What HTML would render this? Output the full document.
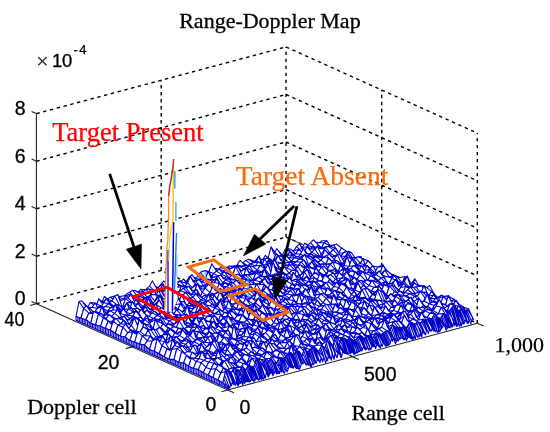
<!DOCTYPE html>
<html><head><meta charset="utf-8"><style>
html,body{margin:0;padding:0;background:#fff;width:550px;height:432px;overflow:hidden}
svg{display:block}
.s{font-family:"Liberation Serif","Times New Roman",serif}
.a{font-family:"Liberation Sans",Arial,sans-serif}
</style></head><body>
<svg width="550" height="432" viewBox="0 0 550 432">
<rect width="550" height="432" fill="#fff"/>
<path d="M36.4 303.8L286.0 237.1M286.0 237.1L477.3 323.3M36.4 256.2L286.0 189.6M286.0 189.6L477.3 275.8M36.4 208.7L286.0 142.0M286.0 142.0L477.3 228.2M36.4 161.2L286.0 94.5M286.0 94.5L477.3 180.7M36.4 113.6L286.0 46.9M286.0 46.9L477.3 133.1M161.2 270.5L161.2 80.3M286.0 237.1L286.0 46.9M381.7 280.2L381.7 90.0M477.3 323.3L477.3 133.1M132.1 346.9L381.7 280.2M352.5 356.6L161.2 270.5" fill="none" stroke="#000" stroke-width="1.4" stroke-dasharray="3.4 3.6"/>
<path d="M286 237.1L330 256.8" stroke="#333" stroke-width="1"/>
<g fill="#fff" stroke="#0000d0" stroke-width="5.3" stroke-linejoin="round" transform="scale(0.2)">
<path d="M380 1583l15-75l14-4l14 21l14 15l14-27l14 8l14 14l15-41l14 21l14-33l14 13l14-9l14 8l14-15l14 4l15-2l14-2l14-11l14-7l14-10l14 3l14 6l14-14l15 18l14-22l14-11l14-27l14 26l14 9l14-17l14-17l15 16l14-4l14-14l14 13l14-7l14 2l14-16l15 14l14-25l14-10l14 16l14-7l14-22l14-6l14-2l15 6l14-40l14 22l14 13l14-16l14-1l14 12l14-19l15 3l14 3l14-12l14-22l14 12l14-12l14-6l15 5l14 11l14-6l14-9l14 2l14-22l14 12l14-55l15 36l14-27l14 17l14 16l14-30l14-3l14 3l14 9l15-23l14-11l14 17l14-23l14 11l14-13l14-14l14 13l15 2l14-10l24 0l-14 10l-14 30l-14-18l-14 17l-14-8l-15 8l-14-9l-14 27l-14-1l-14-14l-14 24l-14 2l-14-14l-15 19l-14 13l-14-13l-14 2l-14-11l-14 37l-14 0l-15-15l-14 5l-14 32l-14-47l-14 28l-14 6l-14 6l-14 8l-15-2l-14 5l-14 1l-14-2l-14 0l-14 14l-14-7l-14 8l-15 20l-14-20l-14 11l-14 11l-14 23l-14-33l-14 37l-14-4l-15 6l-14 11l-14-3l-14-4l-14 31l-14-16l-14-4l-15-7l-14 15l-14-4l-14 4l-14 9l-14 39l-14-48l-14 32l-15-2l-14 6l-14 9l-14-19l-14 3l-14 10l-14 11l-14 14l-15 10l-14-12l-14 12l-14-14l-14 17l-14 9l-14-31l-15 6l-14 25l-14 6l-14-16l-14 19l-14 24l-14 5l-14-28l-15 21l-14 4l-14-11l-14 13l-14 49zm15-75l24 34m-10-38l24 25m-10-4l24 15m-10 0l24-4m-10-23l25 2m-11 6l25 22m-11-8l25 3m-10-44l24 20m-10 1l24-20m-10-13l24 29m-10-16l24 10m-10-19l24-6m-10 14l25-20m-11 5l25 26m-11-22l25 13m-10-15l24-2m-10 0l24 14m-10-25l24 13m-10-20l24 32m-10-42l25 32m-11-29l25 15m-11-9l25-2m-11-12l25 2m-10 16l24-19m-10-3l24 22m-10-33l24 24m-10-51l24 45m-10-19l25 21m-11-12l25-20m-11 3l25 45m-11-62l25 23m-10-7l24-2m-10-2l24-2m-10-12l24 16m-10-3l24-12m-10 5l25 2m-11 0l25 4m-11-20l25 36m-10-22l24-9m-10-16l24 20m-10-30l24 33m-10-17l24 6m-10-13l25 7m-11-29l25 33m-11-39l25 2m-11-4l25 37m-10-31l24 8m-10-48l24 37m-10-15l24 4m-10 9l24 11m-10-27l25 7m-11-8l25 0m-11 12l25-5m-11-14l25 0m-10 3l24-3m-10 6l24-4m-10-8l24 7m-10-29l24 24m-10-12l25 14m-11-26l25 18m-11-24l25 18m-10-13l24 7m-10 4l24-32m-10 26l24 21m-10-30l24-2m-10 4l24-9m-10-13l25 28m-11-16l25 16m-11-71l25 34m-10 2l24 9m-10-36l24 34m-10-17l24 30m-10-14l24 1m-10-31l25 12m-11-15l25 29m-11-26l25 24m-11-15l25-9m-10-14l24 28m-10-39l24 40m-10-23l24-4m-10-19l24 28m-10-17l25 9m-11-22l25 30m-11-44l25 27m-11-14l25 32m-10-30l24 0"/>
<path d="M405 1591l14-49l14-13l14 11l14-4l15-21l14 28l14-5l14-24l14-19l14 16l14-6l14-25l15-6l14 31l14-9l14-17l14 14l14-12l14 12l15-10l14-14l14-11l14-10l14-3l14 19l14-9l14-6l15 2l14-32l14 48l14-39l14-9l14-4l14 4l14-15l15 7l14 4l14 16l14-31l14 4l14 3l14-11l15-6l14 4l14-37l14 33l14-23l14-11l14-11l14 20l15-20l14-8l14 7l14-14l14 0l14 2l14-1l14-5l15 2l14-8l14-6l14-6l14-28l14 47l14-32l14-5l15 15l14 0l14-37l14 11l14-2l14 13l14-13l15-19l14 14l14-2l14-24l14 14l14 1l14-27l14 9l15-8l14 8l14-17l14 18l14-30l14-10l25 37l-14-15l-15 20l-14-2l-14 0l-14-10l-14 11l-14 17l-14 8l-15-1l-14-27l-14 28l-14 21l-14 15l-14-32l-14 17l-14-10l-15 7l-14 15l-14-25l-14 29l-14 11l-14 17l-14 2l-14-3l-15-19l-14-5l-14 20l-14 3l-14-3l-14 6l-14 9l-14 11l-15-18l-14-6l-14 43l-14 0l-14-8l-14-8l-14 13l-15 9l-14 2l-14 5l-14 10l-14-1l-14 4l-14 8l-14-11l-15 9l-14 2l-14-26l-14 31l-14 18l-14-2l-14-4l-14 13l-15-17l-14 7l-14 34l-14-9l-14 8l-14-14l-14 25l-15-21l-14 19l-14 23l-14-5l-14-1l-14-5l-14 20l-14 1l-15-33l-14 18l-14 3l-14 49l-14-12l-14-6l-14 10l-14-5l-15-10l-14 14l-14 10l-14-14l-14 14l-14 22l-14 3l-14-1l-15 33zm14-49l25 24m-11-37l25 38m-11-27l25 24m-11-28l25 6m-10-27l24 13m-10 15l24-1m-10-4l24-6m-10-18l24 4m-10-23l25 33m-11-17l25 22m-11-28l25 18m-11-43l25 49m-10-55l24 67m-10-36l24-13m-10 4l24-7m-10-10l24-8m-10 22l25 11m-11-23l25 22m-11-10l25-10m-10 0l24 5m-10-19l24 20m-10-31l24 36m-10-46l24 23m-10-26l24 7m-10 12l25 9m-11-18l25-7m-11 1l25 13m-10-11l24 3m-10-35l24 44m-10 4l24-38m-10-1l24-6m-10-3l25 20m-11-24l25 11m-11-7l25 11m-11-26l25 28m-10-21l24 3m-10 1l24-32m-10 48l24-22m-10-9l24 7m-10-3l25-6m-11 9l25 2m-11-13l25 5m-10-11l24 7m-10-3l24 4m-10-41l24 31m-10 2l24-7m-10-16l24 14m-10-25l25 16m-11-27l25 14m-11 6l25 2m-10-22l24 30m-10-38l24 38m-10-31l24-12m-10-2l24 8m-10-8l25 26m-11-24l25 13m-11-14l25 5m-11-10l25 4m-10-2l24 5m-10-13l24 10m-10-16l24-4m-10-2l24 7m-10-35l25 54m-11-7l25 10m-11-42l25 40m-11-45l25 28m-10-13l24 2m-10-2l24-27m-10-10l24 35m-10-24l24 9m-10-11l25 4m-11 9l25 1m-11-14l25-3m-10-16l24 48m-10-34l24 19m-10-21l24 0m-10-24l24-4m-10 18l24 9m-10-8l25 9m-11-36l25 28m-11-19l25 2m-10-10l24-1m-10 9l24 1m-10-18l24 18m-10 0l24 2m-10-32l25 12"/>
<path d="M429 1599l15-33l14 1l14-3l14-22l14-14l14 14l14-10l14-14l15 10l14 5l14-10l14 6l14 12l14-49l14-3l14-18l15 33l14-1l14-20l14 5l14 1l14 5l14-23l14-19l15 21l14-25l14 14l14-8l14 9l14-34l14-7l15 17l14-13l14 4l14 2l14-18l14-31l14 26l14-2l15-9l14 11l14-8l14-4l14 1l14-10l14-5l14-2l15-9l14-13l14 8l14 8l14 0l14-43l14 6l15 18l14-11l14-9l14-6l14 3l14-3l14-20l14 5l15 19l14 3l14-2l14-17l14-11l14-29l14 25l14-15l15-7l14 10l14-17l14 32l14-15l14-21l14-28l14 27l15 1l14-8l14-17l14-11l14 10l14 0l14 2l15-20l14 15l24-20l-14 4l-14 8l-14-1l-14 2l-15 51l-14-4l-14-4l-14 6l-14-13l-14 5l-14 13l-14-6l-15 5l-14-3l-14 5l-14 18l-14 4l-14 4l-14-2l-14 2l-15 9l-14-27l-14 47l-14-47l-14 64l-14-36l-14 2l-15 23l-14 19l-14-13l-14 10l-14-27l-14 46l-14-6l-14-8l-15 6l-14-3l-14 16l-14-7l-14 11l-14-18l-14 5l-14 16l-15 9l-14 24l-14-11l-14 10l-14 8l-14-9l-14-7l-15 18l-14 10l-14-13l-14-4l-14 1l-14 38l-14-11l-14-27l-15 42l-14 14l-14-8l-14-25l-14-1l-14 20l-14-3l-14 5l-15 21l-14-9l-14 12l-14 12l-14-16l-14 24l-14-8l-14 1l-15 20l-14 26l-14-18l-14 7l-14-11l-14 0l-14 17l-15 21l-14-44l-14 38l-14-11l-14-2l-14 60zm15-33l24-9m-10 10l24-8m-10 5l24 6m-10-28l24-10m-10-4l24 48m-10-34l25 13m-11-23l25 6m-11-20l25 20m-10-10l24 21m-10-16l24 9m-10-19l24 37m-10-31l24 5m-10 7l25-27m-11-22l25 21m-11-24l25 32m-11-50l25 26m-10 7l24 9m-10-10l24-2m-10-18l24 6m-10-1l24 10m-10-9l25-12m-11 17l25-22m-11-1l25 4m-11-23l25 3m-10 18l24-17m-10-8l24 33m-10-19l24 27m-10-35l24 21m-10-12l25-30m-11-4l25 31m-11-38l25 49m-10-32l24-6m-10-7l24 6m-10-2l24 6m-10-4l24 17m-10-35l24 25m-10-56l25 38m-11-12l25 19m-11-21l25 30m-10-39l24 31m-10-20l24 10m-10-18l24 29m-10-33l24 9m-10-8l25-1m-11-9l25-7m-11 2l25-7m-11 5l25 13m-10-22l24 11m-10-24l24 31m-10-23l24 7m-10 1l24 2m-10-2l25-4m-11-39l25 47m-11-41l25 47m-10-29l24-17m-10 6l24 21m-10-30l24 20m-10-26l24 39m-10-36l24 17m-10-20l25-3m-11-17l25 15m-11-10l25 46m-10-27l24-37m-10 40l24 7m-10-9l24-38m-10 21l24 6m-10-17l25 8m-11-37l25 35m-11-10l25 12m-11-27l25 23m-10-30l24 26m-10-16l24-2m-10-15l24 10m-10 22l24-19m-10 4l25-9m-11-12l25 18m-11-46l25 33m-11-6l25 1m-10 0l24 13m-10-21l24 15m-10-32l24 36m-10-47l24 51m-10-41l25-10m-11 10l25-12m-11 14l25-13m-10-7l24-1"/>
<path d="M454 1617l14-60l14 2l14 11l14-38l14 44l15-21l14-17l14 0l14 11l14-7l14 18l14-26l15-20l14-1l14 8l14-24l14 16l14-12l14-12l14 9l15-21l14-5l14 3l14-20l14 1l14 25l14 8l14-14l15-42l14 27l14 11l14-38l14-1l14 4l14 13l14-10l15-18l14 7l14 9l14-8l14-10l14 11l14-24l15-9l14-16l14-5l14 18l14-11l14 7l14-16l14 3l15-6l14 8l14 6l14-46l14 27l14-10l14 13l14-19l15-23l14-2l14 36l14-64l14 47l14-47l14 27l15-9l14-2l14 2l14-4l14-4l14-18l14-5l14 3l15-5l14 6l14-13l14-5l14 13l14-6l14 4l14 4l15-51l14-2l14 1l14-8l14-4l25 19l-15 25l-14-23l-14 6l-14 18l-14-2l-14-16l-14 41l-14-3l-15-1l-14 4l-14-6l-14 3l-14-14l-14 18l-14 5l-15 14l-14 10l-14-10l-14 19l-14 0l-14 18l-14 0l-14-6l-15-15l-14 36l-14-40l-14 26l-14 15l-14 2l-14-9l-14 10l-15 10l-14-2l-14 1l-14 17l-14 7l-14 9l-14-8l-14 0l-15-5l-14 6l-14 14l-14 20l-14-41l-14 19l-14 6l-15 19l-14 12l-14-20l-14 19l-14-29l-14 36l-14 0l-14-23l-15 7l-14 3l-14 12l-14 20l-14 0l-14 0l-14 12l-14 5l-15 3l-14-11l-14-8l-14 32l-14 15l-14-38l-14 9l-15 43l-14 1l-14-19l-14 14l-14-24l-14 40l-14-34l-14 33l-15 5l-14 13l-14-42l-14 28l-14 3l-14 19l-14 5l-14-9l-15 3l-14 52zm14-60l24 15m-10-13l25 10m-11 1l25 8m-11-46l25 41m-11 3l25-22m-10 1l24-4m-10-13l24-15m-10 15l24 27m-10-16l24 3m-10-10l25 5m-11 13l25-46m-11 20l25 14m-10-34l24-6m-10 5l24 19m-10-11l24-3m-10-21l24 40m-10-24l24 23m-10-35l25-8m-11-4l25-5m-11 14l25 24m-10-45l24 30m-10-35l24 3m-10 0l24 8m-10-28l24 39m-10-38l25 35m-11-10l25 5m-11 3l25-15m-11 1l25-1m-10-41l24 41m-10-14l24-6m-10 17l24-29m-10-9l24 6m-10-7l25 0m-11 4l25 19m-11-6l25 6m-11-16l25-20m-10 2l24 27m-10-20l24 1m-10 8l24 12m-10-20l24 8m-10-18l25-1m-11 12l25-18m-11-6l25-13m-10 4l24 37m-10-53l24 33m-10-38l24 24m-10-6l24 0m-10-11l25 16m-11-9l25 9m-11-25l25 33m-11-30l25 21m-10-27l24 20m-10-12l24-5m-10 11l24-12m-10-34l24 36m-10-9l25-1m-11-9l25-1m-11 14l25-5m-11-14l25 12m-10-35l24 20m-10-22l24-4m-10 40l24 0m-10-64l24 28m-10 19l25-4m-11-43l25 49m-11-22l25 22m-10-31l24 13m-10-15l24 15m-10-13l24-6m-10 2l24 8m-10-12l24 2m-10-20l25 6m-11-11l25 6m-11-3l25-15m-10 10l24 4m-10 2l24-5m-10-8l24 14m-10-19l24 15m-10-2l25 3m-11-9l25 12m-11-8l25-33m-11 37l25-21m-10-30l24 32m-10-34l24 16m-10-15l24 9m-10-17l24 40"/>
<path d="M478 1624l14-52l15-3l14 9l14-5l14-19l14-3l14-28l14 42l14-13l15-5l14-33l14 34l14-40l14 24l14-14l14 19l14-1l15-43l14-9l14 38l14-15l14-32l14 8l14 11l15-3l14-5l14-12l14 0l14 0l14-20l14-12l14-3l15-7l14 23l14 0l14-36l14 29l14-19l14 20l14-12l15-19l14-6l14-19l14 41l14-20l14-14l14-6l15 5l14 0l14 8l14-9l14-7l14-17l14-1l14 2l15-10l14-10l14 9l14-2l14-15l14-26l14 40l14-36l15 15l14 6l14 0l14-18l14 0l14-19l14 10l14-10l15-14l14-5l14-18l14 14l14-3l14 6l14-4l15 1l14 3l14-41l14 16l14 2l14-18l14-6l14 23l15-25l24 16l-14 8l-14 17l-14-8l-15 9l-14 2l-14-12l-14 6l-14 8l-14 15l-14 10l-14-7l-15-3l-14 37l-14-9l-14-29l-14 10l-14 17l-14 15l-14-18l-15 1l-14 15l-14-7l-14 22l-14 6l-14-7l-14-46l-14 69l-15 5l-14-36l-14 35l-14-16l-14-1l-14 36l-14 1l-15-3l-14-9l-14 6l-14 22l-14-16l-14 15l-14-5l-14 15l-15-13l-14 20l-14-15l-14 36l-14 16l-14-42l-14-5l-14 18l-15 21l-14 35l-14-50l-14 13l-14 13l-14-8l-14-3l-15 17l-14 17l-14-20l-14 11l-14 10l-14 6l-14 20l-14-12l-15-36l-14 49l-14 2l-14 2l-14-35l-14 29l-14 26l-14 3l-15-10l-14 4l-14-4l-14 3l-14 18l-14-18l-14 23l-14-18l-15 18l-14 15l-14-9l-14 21l-14-5l-14 43zm14-52l25 17m-10-20l24 25m-10-16l24-5m-10 0l24 9m-10-28l24 13m-10-16l25-2m-11-26l25 44m-11-2l25-21m-11 8l25 10m-10-15l24-3m-10-30l24 27m-10 7l24-3m-10-37l24 33m-10-9l25 19m-11-33l25 30m-11-11l25-15m-11 14l25-43m-10 0l24 35m-10-44l24 42m-10-4l24 2m-10-17l24-32m-10 0l25 36m-11-28l25 40m-11-29l25 9m-10-12l24 6m-10-11l24 1m-10-13l24 2m-10-2l24 22m-10-22l24 5m-10-25l25 8m-11-20l25 23m-11-26l25 34m-10-41l24 28m-10-5l24-8m-10 8l24 42m-10-78l24 43m-10-14l25-7m-11-12l25-6m-11 26l25-21m-11 9l25 33m-10-52l24 36m-10-42l24 6m-10-25l24 40m-10 1l24-21m-10 1l25 12m-11-26l25 11m-11-17l25 22m-10-17l24 2m-10-2l24 18m-10-10l24-12m-10 3l24-9m-10 2l24 7m-10-24l25 27m-11-28l25 27m-11-25l25-11m-10 1l24 0m-10-10l24 26m-10-17l24-18m-10 16l24 20m-10-35l25 30m-11-56l25-13m-11 53l25-7m-11-29l25 36m-10-21l24 15m-10-9l24-13m-10 13l24-6m-10-12l24-3m-10 3l25-4m-11-15l25 33m-11-23l25 8m-11-18l25 1m-10-15l24 5m-10-10l24 39m-10-57l24 66m-10-52l24 15m-10-18l25 21m-11-15l25 22m-11-26l25 16m-10-15l24 0m-10 3l24-11m-10-30l24 24m-10-8l24 20m-10-18l24 16m-10-34l25 25m-11-31l25 39m-11-16l25-1"/>
<path d="M503 1632l14-43l14 5l14-21l14 9l14-15l15-18l14 18l14-23l14 18l14-18l14-3l14 4l14-4l15 10l14-3l14-26l14-29l14 35l14-2l14-2l14-49l15 36l14 12l14-20l14-6l14-10l14-11l14 20l14-17l15-17l14 3l14 8l14-13l14-13l14 50l14-35l15-21l14-18l14 5l14 42l14-16l14-36l14 15l14-20l15 13l14-15l14 5l14-15l14 16l14-22l14-6l14 9l15 3l14-1l14-36l14 1l14 16l14-35l14 36l15-5l14-69l14 46l14 7l14-6l14-22l14 7l14-15l15-1l14 18l14-15l14-17l14-10l14 29l14 9l14-37l15 3l14 7l14-10l14-15l14-8l14-6l14 12l14-2l15-9l14 8l14-17l14-8l24 6l-14-5l-14 23l-14 18l-14-23l-14-2l-14 25l-14 8l-15-15l-14 30l-14 16l-14-13l-14 4l-14 6l-14-26l-14 22l-15 6l-14 3l-14-14l-14 8l-14 18l-14 1l-14 15l-15 5l-14-5l-14 3l-14-1l-14 1l-14 8l-14 6l-14 13l-15-12l-14-2l-14 3l-14 16l-14-1l-14 4l-14-6l-14 15l-15 14l-14 15l-14 15l-14-11l-14-27l-14 13l-14 9l-14 19l-15-11l-14 3l-14-19l-14 29l-14 16l-14-2l-14 11l-15-11l-14-7l-14 16l-14 5l-14 11l-14-20l-14-8l-14 33l-15-8l-14 16l-14 18l-14-5l-14 11l-14-14l-14-25l-14 24l-15 14l-14 12l-14-11l-14-5l-14 29l-14 5l-14 9l-15-16l-14 6l-14 9l-14-1l-14 16l-14-4l-14 9l-14-1l-15 24l-14-14l-14 37zm14-43l24 16m-10-11l24 25m-10-46l25 22m-11-13l25 14m-11-29l25 20m-10-38l24 42m-10-24l24 8m-10-31l24 32m-10-14l24 5m-10-23l24 17m-10-20l25 36m-11-32l25 23m-11-27l25 22m-10-12l24-17m-10 14l24-9m-10-17l24 28m-10-57l24 45m-10-10l25-4m-11 2l25-26m-11 24l25 1m-11-50l25 64m-10-28l24 17m-10-5l24 10m-10-30l24 12m-10-18l24 2m-10-12l25 20m-11-31l25-2m-11 22l25-14m-11-3l25 23m-10-40l24 29m-10-26l24 21m-10-13l24-3m-10-10l24 17m-10-30l25 41m-11 9l25-20m-11-15l25 17m-10-38l24 22m-10-40l24 11m-10-6l24 25m-10 17l24-20m-10 4l25 7m-11-43l25 24m-11-9l25 0m-11-20l25 7m-10 6l24 21m-10-36l24 47m-10-42l24 27m-10-42l24 27m-10-11l25-3m-11-19l25 4m-11-10l25 16m-11-7l25 3m-10 0l24 1m-10-2l24-14m-10-22l24 19m-10-18l24 20m-10-4l25 16m-11-51l25 38m-11-2l25-4m-10-1l24-7m-10-62l24 61m-10-15l24 16m-10-9l24 6m-10-12l24 17m-10-39l25 34m-11-27l25 12m-11-27l25 26m-10-27l24 9m-10 9l24-17m-10 2l24 12m-10-29l24 26m-10-36l25 30m-11-1l25-21m-11 30l25-4m-11-33l25 27m-10-24l24 20m-10-13l24 26m-10-36l24 20m-10-35l24 5m-10-13l25 28m-11-34l25 26m-11-14l25-11m-11 9l25-7m-10-2l24 25m-10-17l24-1m-10-16l24-7"/>
<path d="M527 1642l14-37l14 14l15-24l14 1l14-9l14 4l14-16l14 1l14-9l14-6l15 16l14-9l14-5l14-29l14 5l14 11l14-12l15-14l14-24l14 25l14 14l14-11l14 5l14-18l14-16l15 8l14-33l14 8l14 20l14-11l14-5l14-16l14 7l15 11l14-11l14 2l14-16l14-29l14 19l14-3l15 11l14-19l14-9l14-13l14 27l14 11l14-15l14-15l15-14l14-15l14 6l14-4l14 1l14-16l14-3l14 2l15 12l14-13l14-6l14-8l14-1l14 1l14-3l14 5l15-5l14-15l14-1l14-18l14-8l14 14l14-3l15-6l14-22l14 26l14-6l14-4l14 13l14-16l14-30l15 15l14-8l14-25l14 2l14 23l14-18l14-23l14 5l25 35l-14 3l-14-12l-14-19l-15 47l-14 5l-14-9l-14-10l-14 15l-14 0l-14 23l-15-19l-14-2l-14 15l-14-2l-14 14l-14-6l-14-3l-14-2l-15 31l-14 15l-14-31l-14 31l-14 12l-14 7l-14-29l-14 19l-15-10l-14-4l-14 6l-14 15l-14-5l-14-10l-14 18l-14 9l-15 27l-14-19l-14 7l-14-1l-14-4l-14 25l-14 12l-15-24l-14 30l-14-13l-14 15l-14-1l-14 22l-14-43l-14 15l-15 14l-14-2l-14 14l-14 23l-14-12l-14 5l-14 15l-14-5l-15 14l-14-9l-14 14l-14-20l-14 3l-14-20l-14 33l-15 4l-14-20l-14 26l-14 7l-14-2l-14 12l-14-34l-14 34l-15 16l-14-16l-14 16l-14-21l-14 18l-14-9l-14 25l-14 13l-15 7l-14-18l-14 8l-14 4l-14-2l-14 14l-14 45zm14-37l25 1m-11 13l25-27m-10 3l24-1m-10 2l24-6m-10-3l24-5m-10 9l24 9m-10-25l25 18m-11-17l25 4m-11-13l25-12m-11 6l25 3m-10 13l24-31m-10 22l24-1m-10-4l24-12m-10-17l24 33m-10-28l25 12m-11-1l25-33m-11 21l25 13m-10-27l24 15m-10-39l24 41m-10-16l24 9m-10 5l24-31m-10 20l24 0m-10 5l25-9m-11-9l25-24m-11 8l25 12m-10-4l24 1m-10-34l24 54m-10-46l24 32m-10-12l24 21m-10-32l25 18m-11-23l25 28m-11-44l25 29m-11-22l25 17m-10-6l24 18m-10-29l24 6m-10-4l24-10m-10-6l24 8m-10-37l25 23m-11-4l25-11m-11 8l25 35m-10-24l24 2m-10-21l24 22m-10-31l24 16m-10-29l24 42m-10-15l24-15m-10 26l25-2m-11-13l25 1m-11-16l25-9m-10-5l24 9m-10-24l24 25m-10-19l24 12m-10-16l24 35m-10-34l25 7m-11-23l25 14m-11-17l25-1m-11 3l25 7m-10 5l24 0m-10-13l24-2m-10-4l24-2m-10-6l24 10m-10-11l25 21m-11-20l25 1m-11-4l25 33m-11-28l25 21m-10-26l24 14m-10-29l24-2m-10 1l24 30m-10-48l24 33m-10-41l25 10m-11 4l25-2m-11-1l25 4m-10-10l24 16m-10-38l24 24m-10 2l24 0m-10-6l24-9m-10 5l24-3m-10 16l25 3m-11-19l25-4m-11-26l25 26m-10-11l24-4m-10-4l24 14m-10-39l24 48m-10-46l24 41m-10-18l25-29m-11 11l25 8m-11-31l25 43"/>
<path d="M552 1651l14-45l14-14l14 2l14-4l14-8l14 18l15-7l14-13l14-25l14 9l14-18l14 21l14-16l14 16l15-16l14-34l14 34l14-12l14 2l14-7l14-26l14 20l15-4l14-33l14 20l14-3l14 20l14-14l14 9l15-14l14 5l14-15l14-5l14 12l14-23l14-14l14 2l15-14l14-15l14 43l14-22l14 1l14-15l14 13l14-30l15 24l14-12l14-25l14 4l14 1l14-7l14 19l15-27l14-9l14-18l14 10l14 5l14-15l14-6l14 4l15 10l14-19l14 29l14-7l14-12l14-31l14 31l14-15l15-31l14 2l14 3l14 6l14-14l14 2l14-15l14 2l15 19l14-23l14 0l14-15l14 10l14 9l14-5l15-47l14 19l14 12l14-3l24-13l-14 1l-14 3l-14 19l-14 12l-14-36l-14 45l-15-6l-14-3l-14-5l-14-2l-14 9l-14 28l-14-15l-14 2l-15 20l-14-18l-14 41l-14 6l-14-38l-14 13l-14 37l-14-17l-15 0l-14-19l-14 61l-14-30l-14-2l-14 24l-14-16l-15 14l-14 21l-14-22l-14 7l-14-26l-14 15l-14 16l-14-4l-15 37l-14-23l-14 11l-14 25l-14-9l-14-18l-14 43l-14-28l-15 22l-14-20l-14 43l-14-22l-14-23l-14 42l-14-24l-14 35l-15-40l-14 39l-14 8l-14-11l-14 22l-14 13l-14-13l-15 14l-14-2l-14-3l-14-18l-14 38l-14-24l-14 9l-14-24l-15 35l-14 9l-14 11l-14 1l-14-17l-14 7l-14 18l-14-5l-15 24l-14-15l-14 5l-14-5l-14 13l-14 23l-14-5l-15-16l-14 18l-14 7l-14 40zm14-45l24 20m-10-34l24 27m-10-25l24 7m-10-11l25 27m-11-35l25 40m-11-22l25-1m-10-6l24-7m-10-6l24 11m-10-36l24 31m-10-22l24 37m-10-55l25 31m-11-10l25 15m-11-31l25 13m-11 3l25-10m-10-6l24 23m-10-57l24 56m-10-22l24 11m-10-23l24 14m-10-12l25-23m-11 16l25 8m-11-34l25 25m-11-5l25 29m-10-33l24-5m-10-28l24 46m-10-26l24 29m-10-32l24 34m-10-14l25 0m-11-14l25 27m-11-18l25 5m-10-19l24-3m-10 8l24 3m-10-18l24 10m-10-15l24-24m-10 36l25 4m-11-27l25-8m-11-6l25 30m-11-28l25-14m-10 0l24 23m-10-38l24 60m-10-17l24-26m-10 4l24 16m-10-15l25-7m-11-8l25 36m-11-23l25-20m-11-10l25 28m-10-4l24 13m-10-25l24 0m-10-25l24 14m-10-10l24 33m-10-32l25-5m-11-2l25 6m-11 13l25-29m-10 2l24-17m-10 8l24 18m-10-36l24 29m-10-19l24 41m-10-36l24 15m-10-30l25 16m-11-22l25 38m-11-34l25 10m-10 0l24 2m-10-21l24 51m-10-22l24-39m-10 32l24-13m-10 1l25-1m-11-30l25 47m-11-16l25-21m-11 6l25-19m-10-12l24 50m-10-48l24 42m-10-39l24-2m-10 8l24 10m-10-24l25 4m-11-2l25 0m-11-15l25 30m-11-28l25 0m-10 19l24-28m-10 5l24-3m-10 3l24 2m-10-17l24 20m-10-10l25 16m-11-7l25-38m-11 33l25 3m-10-50l24 38m-10-19l24 0m-10 12l24-15"/>
<path d="M576 1666l14-40l14-7l14-18l15 16l14 5l14-23l14-13l14 5l14-5l14 15l15-24l14 5l14-18l14-7l14 17l14-1l14-11l14-9l15-35l14 24l14-9l14 24l14-38l14 18l14 3l14 2l15-14l14 13l14-13l14-22l14 11l14-8l14-39l15 40l14-35l14 24l14-42l14 23l14 22l14-43l14 20l15-22l14 28l14-43l14 18l14 9l14-25l14-11l14 23l15-37l14 4l14-16l14-15l14 26l14-7l14 22l14-21l15-14l14 16l14-24l14 2l14 30l14-61l14 19l15 0l14 17l14-37l14-13l14 38l14-6l14-41l14 18l15-20l14-2l14 15l14-28l14-9l14 2l14 5l14 3l15 6l14-45l14 36l14-12l14-19l14-3l14-1l25 61l-14-51l-14 23l-15 7l-14-21l-14-8l-14 37l-14 14l-14-4l-14-18l-14 43l-15-22l-14 7l-14 8l-14 9l-14 11l-14 0l-14-5l-15-11l-14 13l-14 20l-14-15l-14 19l-14-4l-14 3l-14-4l-15 8l-14-14l-14 16l-14 3l-14 42l-14-49l-14-5l-14 25l-15 1l-14 32l-14-34l-14 40l-14-5l-14 1l-14-2l-14-1l-15 5l-14 6l-14 8l-14 17l-14-8l-14-18l-14 22l-15-12l-14 34l-14-5l-14 1l-14 29l-14-35l-14 1l-14 4l-15 22l-14-13l-14 25l-14-10l-14 16l-14 17l-14-13l-14 5l-15 8l-14-12l-14 0l-14 24l-14-18l-14 14l-14 20l-15-29l-14 14l-14 4l-14 16l-14 17l-14-8l-14 3l-14 13l-15-11l-14 15l-14-33l-14 39l-14 14l-14-21l-14 15l-14 44zm14-40l25 10m-11-17l25 2m-11-20l25 41m-10-25l24 11m-10-6l24-33m-10 10l24 23m-10-36l24 21m-10-16l25 27m-11-32l25 19m-11-4l25 1m-10-25l24 33m-10-28l24 11m-10-29l24 13m-10-20l24 16m-10 1l24-15m-10 14l25 15m-11-26l25 6m-11-15l25 1m-10-36l24 54m-10-30l24 6m-10-15l24 15m-10 9l24 3m-10-41l25 33m-11-15l25 10m-11-7l25 20m-11-18l25 1m-10-15l24-1m-10 14l24-4m-10-9l24-16m-10-6l24 19m-10-8l25-14m-11 6l25-10m-11-29l25 28m-10 12l24 23m-10-58l24 29m-10-5l24 4m-10-46l24 51m-10-28l24-6m-10 28l25-16m-11-27l25 5m-11 15l25 3m-10-25l24 33m-10-5l24-12m-10-31l24 23m-10-5l24-1m-10 10l25-15m-11-10l25 11m-11-22l25 24m-11-1l25 0m-10-37l24 42m-10-38l24-2m-10-14l24 48m-10-63l24 31m-10-5l25 4m-11-11l25-14m-11 36l25-31m-11 10l25 39m-10-53l24 11m-10 5l24-8m-10-16l24 0m-10 2l24 12m-10 18l25-26m-11-35l25 39m-11-20l25 17m-10-17l24 21m-10-4l24-15m-10-22l24 37m-10-50l24 30m-10 8l24-21m-10 15l25-4m-11-37l25 42m-11-24l25 24m-10-44l24 33m-10-35l24 26m-10-11l24 3m-10-31l24 24m-10-33l25 55m-11-53l25 10m-11-5l25 23m-11-20l25 24m-10-18l24 4m-10-49l24 12m-10 24l24-16m-10 4l24 17m-10-36l25 29m-11-32l25 9"/>
<path d="M601 1680l14-44l14-15l14 21l14-14l14-39l14 33l14-15l15 11l14-13l14-3l14 8l14-17l14-16l14-4l14-14l15 29l14-20l14-14l14 18l14-24l14 0l14 12l15-8l14-5l14 13l14-17l14-16l14 10l14-25l14 13l15-22l14-4l14-1l14 35l14-29l14-1l14 5l14-34l15 12l14-22l14 18l14 8l14-17l14-8l14-6l15-5l14 1l14 2l14-1l14 5l14-40l14 34l14-32l15-1l14-25l14 5l14 49l14-42l14-3l14-16l14 14l15-8l14 4l14-3l14 4l14-19l14 15l14-20l14-13l15 11l14 5l14 0l14-11l14-9l14-8l14-7l15 22l14-43l14 18l14 4l14-14l14-37l14 8l14 21l15-7l14-23l14 51l24-28l-14-13l-14 21l-14 10l-14 19l-14-20l-14-6l-15 14l-14 9l-14 14l-14-19l-14 11l-14 2l-14 14l-15-14l-14-4l-14 28l-14 10l-14-28l-14 37l-14-14l-14 31l-15-12l-14 13l-14 1l-14-2l-14-10l-14 23l-14-12l-14 26l-15 12l-14-29l-14-3l-14 15l-14-24l-14 33l-14-4l-15-14l-14 23l-14 17l-14-3l-14 7l-14 6l-14 13l-14-13l-15-7l-14 14l-14-1l-14 23l-14-40l-14 47l-14-33l-14 29l-15-20l-14 36l-14 7l-14-14l-14 6l-14-3l-14 23l-15-28l-14 2l-14 40l-14 2l-14 16l-14-55l-14 46l-14 5l-15-3l-14 6l-14 6l-14-4l-14 8l-14 4l-14-7l-14 10l-15 3l-14-7l-14 20l-14-24l-14 9l-14 20l-14-20l-14 62l-15-6l-14-2l-14 12l-14 21zm14-44l24 28m-10-43l24 31m-10-10l24 12m-10-26l25 32m-11-71l25 9m-11 24l25-4m-11-11l25-9m-10 20l24-29m-10 16l24 8m-10-11l24-9m-10 17l24-10m-10-7l25 4m-11-20l25 10m-11-14l25 21m-11-35l25 31m-10-2l24-6m-10-14l24 18m-10-32l24 26m-10-8l24 2m-10-26l25 29m-11-29l25 24m-11-12l25-34m-10 26l24 29m-10-34l24 18m-10-5l24 3m-10-20l24-20m-10 4l24-6m-10 16l25 12m-11-37l25 14m-11-1l25 4m-10-26l24 20m-10-24l24 38m-10-39l24 32m-10 3l24-39m-10 10l25 10m-11-11l25-18m-11 23l25 10m-11-44l25-3m-10 15l24 25m-10-47l24 24m-10-6l24 7m-10 1l24-15m-10-2l25 9m-11-17l25 30m-11-36l25 23m-10-28l24 22m-10-21l24 14m-10-12l24 15m-10-16l24-1m-10 6l24-29m-10-11l25 25m-11 9l25-5m-11-27l25-6m-10 5l24 19m-10-44l24 29m-10-24l24 27m-10 22l24 7m-10-49l25 37m-11-40l25 14m-11-30l25 42m-11-28l25 5m-10-13l24 23m-10-19l24 21m-10-24l24 23m-10-19l24 6m-10-25l25 37m-11-22l25-9m-11-11l25 25m-11-38l25 1m-10 10l24 18m-10-13l24 3m-10-3l24-25m-10 14l24-10m-10 1l25 13m-11-21l25 7m-11-14l25 12m-10 10l24-21m-10-22l24 41m-10-23l24 9m-10-5l24-4m-10-10l25-4m-11-33l25 39m-11-31l25 51m-11-30l25 11m-10-18l24 8m-10-31l24 10"/>
<path d="M625 1685l14-21l14-12l14 2l15 6l14-62l14 20l14-20l14-9l14 24l14-20l14 7l15-3l14-10l14 7l14-4l14-8l14 4l14-6l14-6l15 3l14-5l14-46l14 55l14-16l14-2l14-40l14-2l15 28l14-23l14 3l14-6l14 14l14-7l14-36l15 20l14-29l14 33l14-47l14 40l14-23l14 1l14-14l15 7l14 13l14-13l14-6l14-7l14 3l14-17l14-23l15 14l14 4l14-33l14 24l14-15l14 3l14 29l15-12l14-26l14 12l14-23l14 10l14 2l14-1l14-13l15 12l14-31l14 14l14-37l14 28l14-10l14-28l14 4l15 14l14-14l14-2l14-11l14 19l14-14l14-9l15-14l14 6l14 20l14-19l14-10l14-21l14 13l25 37l-14-24l-15 12l-14-14l-14 24l-14-24l-14 23l-14 17l-14-10l-14-3l-15 17l-14-27l-14 32l-14-15l-14 28l-14-26l-14 9l-14 13l-15-10l-14 27l-14 1l-14 6l-14-4l-14 31l-14-5l-15 6l-14-3l-14-4l-14-10l-14 23l-14-7l-14 4l-14 20l-15 8l-14-18l-14 19l-14 18l-14-18l-14 3l-14 6l-14 13l-15-16l-14-18l-14 37l-14-7l-14 15l-14-12l-14 26l-14 0l-15 2l-14 0l-14 18l-14-34l-14 35l-14 5l-14-41l-15 29l-14 9l-14 29l-14-27l-14 8l-14 14l-14 28l-14-33l-15 14l-14 9l-14 4l-14-15l-14 22l-14-4l-14 10l-14-15l-15 14l-14 7l-14 19l-14 14l-14-39l-14 10l-14-11l-15 61l-14-41l-14 7l-14-9l-14 46l-14 7l-14 0l-14-9l-15 43zm14-21l25-4m-11-8l25 17m-11-15l25 15m-10-9l24 2m-10-64l24 18m-10 2l24 7m-10-27l24 20m-10-29l24 70m-10-46l25-15m-11-5l25 16m-11-9l25-1m-10-2l24 41m-10-51l24 37m-10-30l24 11m-10-15l24 8m-10-16l25 2m-11 2l25 13m-11-19l25 9m-11-15l25 19m-10-16l24-6m-10 1l24 14m-10-60l24 56m-10-1l24-8m-10-8l25-6m-11 4l25 29m-11-69l25 41m-11-43l25 29m-10-1l24-7m-10-16l24 43m-10-40l24 11m-10-17l24 8m-10 6l25-35m-11 28l25 13m-11-49l25 44m-10-24l24-11m-10-18l24 52m-10-19l24 1m-10-48l24 48m-10-8l25 6m-11-29l25 29m-11-28l25 2m-11-16l25 28m-10-21l24 6m-10 7l24 0m-10-13l24-24m-10 18l24 0m-10-7l25 23m-11-20l25 7m-11-24l25 18m-11-41l25 38m-10-24l24 42m-10-38l24 20m-10-53l24 34m-10-10l24 28m-10-43l25 35m-11-32l25 12m-11 17l25-21m-10 9l24-2m-10-24l24 1m-10 11l24-1m-10-22l24 26m-10-16l24 19m-10-17l25 11m-11-12l25 17m-11-30l25-1m-10 13l24-9m-10-22l24 16m-10-2l24 1m-10-38l24 11m-10 17l25-7m-11-3l25-10m-11-18l25 9m-11-5l25 31m-10-17l24-11m-10-3l24 18m-10-20l24-12m-10 1l24 26m-10-7l25-10m-11-4l25 7m-11-16l25 26m-10-40l24 23m-10-17l24-6m-10 26l24-2m-10-17l24-7m-10-3l24 17m-10-38l25 26"/>
<path d="M649 1703l15-43l14 9l14 0l14-7l14-46l14 9l14-7l14 41l15-61l14 11l14-10l14 39l14-14l14-19l14-7l15-14l14 15l14-10l14 4l14-22l14 15l14-4l14-9l15-14l14 33l14-28l14-14l14-8l14 27l14-29l14-9l15-29l14 41l14-5l14-35l14 34l14-18l14 0l15-2l14 0l14-26l14 12l14-15l14 7l14-37l14 18l15 16l14-13l14-6l14-3l14 18l14-18l14-19l14 18l15-8l14-20l14-4l14 7l14-23l14 10l14 4l14 3l15-6l14 5l14-31l14 4l14-6l14-1l14-27l15 10l14-13l14-9l14 26l14-28l14 15l14-32l14 27l15-17l14 3l14 10l14-17l14-23l14 24l14-24l14 14l15-12l14 24l24-20l-14 1l-14 28l-14 2l-14-17l-14 24l-15 9l-14-28l-14 23l-14-18l-14 34l-14-18l-14-14l-15 21l-14 11l-14 15l-14-11l-14 20l-14-21l-14 28l-14-9l-15 18l-14-1l-14 22l-14-26l-14-3l-14 9l-14-6l-14-2l-15 31l-14 15l-14-24l-14 6l-14 17l-14 5l-14 6l-14 0l-15-16l-14 20l-14 5l-14-12l-14 17l-14 10l-14-9l-15 12l-14 14l-14 5l-14 1l-14 13l-14-23l-14-13l-14 42l-15-14l-14 14l-14 14l-14-19l-14 16l-14-7l-14 23l-14-3l-15-12l-14-20l-14 19l-14 19l-14-33l-14 46l-14 3l-15 21l-14-30l-14 26l-14-9l-14-10l-14 9l-14 21l-14 1l-15-2l-14 11l-14-12l-14 25l-14 21l-14-14l-14-8l-14 7l-15-9l-14-6l-14 23l-14 1l-14 52zm15-43l24-1m-10 10l24-11m-10 11l24-34m-10 27l24-21m-10-25l25 34m-11-25l25 18m-11-25l25 33m-11 8l25 6m-10-67l24 46m-10-35l24 10m-10-20l24 32m-10 7l24-18m-10 4l25-2m-11-17l25 16m-11-23l25 2m-10-16l24 7m-10 8l24 2m-10-12l24 21m-10-17l24-9m-10-13l24 43m-10-28l25 7m-11-11l25 8m-11-17l25-29m-10 15l24 18m-10 15l24-34m-10 6l24-25m-10 11l24 9m-10-17l25 29m-11-2l25 5m-11-34l25 11m-11-20l25 27m-10-56l24 40m-10 1l24 18m-10-23l24 9m-10-44l24 30m-10 4l25 10m-11-28l25-14m-11 14l25-1m-10-1l24 24m-10-24l24 11m-10-37l24 36m-10-24l24 19m-10-34l24 20m-10-13l25 1m-11-38l25 47m-11-29l25 19m-10-3l24-14m-10 1l24 11m-10-17l24 12m-10-15l24-5m-10 23l25-7m-11-11l25 11m-11-30l25 24m-11-6l25 1m-10-9l24-8m-10-12l24 6m-10-10l24 34m-10-27l24 12m-10-35l25 4m-11 6l25-4m-11 8l25-2m-11 5l25-14m-10 8l24-5m-10 10l24 16m-10-47l24 25m-10-21l24 22m-10-28l25 10m-11-11l25 20m-11-47l25 19m-10-9l24 30m-10-43l24 23m-10-32l24 43m-10-17l24 2m-10-30l24 19m-10-4l25-17m-11-15l25 29m-11-2l25 20m-10-37l24 3m-10 0l24 18m-10-8l24-15m-10-2l24 30m-10-53l25 44m-11-20l25-4m-11-20l25 37m-11-23l25 21m-10-33l24 5"/>
<path d="M674 1711l14-52l14-1l14-23l14 6l15 9l14-7l14 8l14 14l14-21l14-25l14 12l14-11l15 2l14-1l14-21l14-9l14 10l14 9l14-26l14 30l15-21l14-3l14-46l14 33l14-19l14-19l14 20l15 12l14 3l14-23l14 7l14-16l14 19l14-14l14-14l15 14l14-42l14 13l14 23l14-13l14-1l14-5l14-14l15-12l14 9l14-10l14-17l14 12l14-5l14-20l15 16l14 0l14-6l14-5l14-17l14-6l14 24l14-15l15-31l14 2l14 6l14-9l14 3l14 26l14-22l14 1l15-18l14 9l14-28l14 21l14-20l14 11l14-15l14-11l15-21l14 14l14 18l14-34l14 18l14-23l14 28l15-9l14-24l14 17l14-2l14-28l14-1l25 15l-14-25l-15 51l-14 14l-14-16l-14-8l-14-5l-14 8l-14-11l-15 17l-14 22l-14-9l-14 16l-14-3l-14-11l-14 15l-14 11l-15-4l-14 5l-14 9l-14-15l-14 2l-14 15l-14 16l-14-5l-15 21l-14-1l-14-22l-14 23l-14 15l-14-5l-14-28l-15 35l-14-1l-14 16l-14 19l-14-25l-14 15l-14 19l-14-42l-15 10l-14 42l-14-33l-14 14l-14-1l-14-19l-14 25l-14 17l-15 12l-14-1l-14-24l-14 22l-14 10l-14-5l-14-1l-14 22l-15 2l-14-8l-14 22l-14-30l-14 18l-14-5l-14 10l-15 5l-14 18l-14-11l-14 27l-14-31l-14 30l-14 6l-14-5l-15 8l-14-33l-14 14l-14 34l-14-4l-14 10l-14-3l-14 23l-15-19l-14-8l-14 13l-14-4l-14 5l-14-2l-14 29l-15 1l-14 41zm14-52l24 20m-10-21l25 20m-11-43l25 14m-11-8l25 10m-10-1l24-4m-10-3l24 7m-10 1l24-14m-10 28l24-20m-10-1l25 20m-11-45l25 22m-11-10l25 13m-11-24l25 14m-10-12l24 16m-10-17l24-17m-10-4l24-10m-10 1l24 32m-10-22l25 14m-11-5l25 10m-11-36l25 30m-11 0l25-30m-10 9l24 22m-10-25l24-2m-10-44l24 55m-10-22l24 4m-10-23l25 18m-11-37l25 27m-11-7l25 12m-10 0l24-18m-10 21l24 9m-10-32l24 10m-10-3l24 11m-10-27l25 25m-11-6l25-16m-11 2l25-1m-11-13l25 18m-10-4l24-6m-10-36l24 14m-10-1l24 25m-10-2l24 3m-10-16l25 4m-11-5l25-12m-11 7l25-32m-11 18l25 1m-10-13l24 14m-10-5l24-9m-10-1l24 34m-10-51l24 9m-10 3l25-13m-11 8l25 34m-11-54l25 35m-10-19l24 4m-10-4l24 29m-10-35l24 16m-10-21l24 5m-10-22l24 23m-10-29l25-6m-11 30l25-2m-11-13l25 18m-10-49l24 34m-10-32l24 9m-10-3l24 25m-10-34l24 35m-10-32l25 11m-11 15l25-10m-11-12l25-4m-11 5l25-20m-10 2l24-4m-10 13l24 2m-10-30l24 21m-10 0l24-5m-10-15l25 19m-11-8l25-3m-11-12l25-3m-11-8l25 19m-10-40l24 43m-10-29l24 13m-10 5l24 4m-10-38l24 16m-10 2l25-19m-11-4l25 15m-11 13l25-21m-10 12l24-7m-10-17l24 25m-10-8l24 24m-10-26l24 12m-10-40l25-11"/>
<path d="M698 1720l14-41l15-1l14-29l14 2l14-5l14 4l14-13l14 8l15 19l14-23l14 3l14-10l14 4l14-34l14-14l14 33l15-8l14 5l14-6l14-30l14 31l14-27l14 11l14-18l15-5l14-10l14 5l14-18l14 30l14-22l14 8l15-2l14-22l14 1l14 5l14-10l14-22l14 24l14 1l15-12l14-17l14-25l14 19l14 1l14-14l14 33l14-42l15-10l14 42l14-19l14-15l14 25l14-19l14-16l14 1l15-35l14 28l14 5l14-15l14-23l14 22l14 1l15-21l14 5l14-16l14-15l14-2l14 15l14-9l14-5l15 4l14-11l14-15l14 11l14 3l14-16l14 9l14-22l15-17l14 11l14-8l14 5l14 8l14 16l14-14l15-51l14 25l24 18l-14-11l-14-5l-14 25l-14-21l-15 19l-14 6l-14-2l-14 24l-14-1l-14 13l-14 8l-14 6l-15-6l-14-1l-14-26l-14 22l-14 18l-14-2l-14-23l-15 23l-14 18l-14 6l-14-7l-14-8l-14-6l-14 17l-14 26l-15-46l-14 34l-14-23l-14 27l-14-4l-14 8l-14 5l-14-4l-15 23l-14-3l-14 10l-14 14l-14 6l-14-22l-14-1l-14 22l-15 13l-14-5l-14 2l-14 33l-14-45l-14 31l-14-18l-15 43l-14-15l-14-16l-14 27l-14-7l-14-11l-14 5l-14 21l-15 15l-14-26l-14 39l-14-30l-14 2l-14 27l-14-3l-14-14l-15 7l-14 36l-14-18l-14 14l-14-2l-14 5l-14 10l-15 3l-14-8l-14 28l-14-18l-14-4l-14 23l-14-5l-14 27l-15-4l-14-2l-14 15l-14-20l-14 24l-14 21zm14-41l25 25m-10-26l24 2m-10-31l24 51m-10-49l24 34m-10-39l24 41m-10-37l25 41m-11-54l25 27m-11-19l25 24m-10-5l24-18m-10-5l24 9m-10-6l24 24m-10-34l24 6m-10-2l24 10m-10-44l25 41m-11-55l25 45m-11-12l25 7m-10-15l24 17m-10-12l24-2m-10-4l24 22m-10-52l24 16m-10 15l25-22m-11-5l25 19m-11-8l25 11m-11-29l25 2m-10-7l24 5m-10-15l24 45m-10-40l24 1m-10-19l24 45m-10-15l25 0m-11-22l25 1m-11 7l25-12m-10 10l24 1m-10-23l24 30m-10-29l24 2m-10 3l24 13m-10-23l24 38m-10-60l25 17m-11 7l25 11m-11-10l25-21m-10 9l24 36m-10-53l24 20m-10-45l24 43m-10-24l24 29m-10-28l25 15m-11-29l25 7m-11 26l25-25m-11-17l25 39m-10-49l24 43m-10-1l24-13m-10-6l24-4m-10-11l24 14m-10 11l25-34m-11 15l25-11m-11-5l25 0m-11 1l25-9m-10-26l24 30m-10-2l24-25m-10 30l24-7m-10-8l24-26m-10 3l25 43m-11-21l25-5m-11 6l25-23m-10 2l24 4m-10 1l24 7m-10-23l24 30m-10-45l24 39m-10-41l24 23m-10-8l25-15m-11 6l25 17m-11-22l25 24m-10-20l24 2m-10-13l24-9m-10-6l24 32m-10-21l24 22m-10-19l25 25m-11-41l25 35m-11-26l25 18m-11-40l25 27m-10-44l24 45m-10-34l24 10m-10-18l24 20m-10-15l24 9m-10-1l25-18m-11 34l25-13m-11-1l25-24m-10-27l24 32"/>
<path d="M723 1725l14-21l14-24l14 20l14-15l14 2l15 4l14-27l14 5l14-23l14 4l14 18l14-28l14 8l15-3l14-10l14-5l14 2l14-14l14 18l14-36l15-7l14 14l14 3l14-27l14-2l14 30l14-39l14 26l15-15l14-21l14-5l14 11l14 7l14-27l14 16l14 15l15-43l14 18l14-31l14 45l14-33l14-2l14 5l15-13l14-22l14 1l14 22l14-6l14-14l14-10l14 3l15-23l14 4l14-5l14-8l14 4l14-27l14 23l14-34l15 46l14-26l14-17l14 6l14 8l14 7l14-6l14-18l15-23l14 23l14 2l14-18l14-22l14 26l14 1l15 6l14-6l14-8l14-13l14 1l14-24l14 2l14-6l15-19l14 21l14-25l14 5l14 11l25 11l-15 0l-14 9l-14-4l-14 5l-14 2l-14 13l-14-7l-14 10l-15 1l-14-7l-14 10l-14-8l-14 2l-14 17l-14 34l-15-1l-14-17l-14-14l-14-4l-14 19l-14 23l-14 11l-14-24l-15-8l-14 34l-14 2l-14-3l-14 0l-14 32l-14-21l-14-2l-15 7l-14 26l-14-44l-14 47l-14-16l-14 25l-14-6l-15 6l-14 9l-14-6l-14-3l-14 29l-14-18l-14 6l-14-9l-15-11l-14 25l-14-2l-14 9l-14 5l-14 14l-14-36l-14 34l-15-1l-14 8l-14 17l-14-10l-14 26l-14-9l-14-12l-14 18l-15 21l-14-6l-14-19l-14 32l-14 8l-14-19l-14 12l-15-5l-14-16l-14 22l-14 27l-14-17l-14-9l-14 17l-14 11l-15-4l-14 25l-14-19l-14 3l-14 0l-14 6l-14 12l-14 6l-15 7l-14 43zm14-21l24 1m-10-25l25 18m-11 2l25-8m-11-7l25-5m-11 7l25-13m-10 17l24-17m-10-10l24 7m-10-2l24 21m-10-44l24 19m-10-15l25 19m-11-1l25-10m-11-18l25 1m-11 7l25 2m-10-5l24 22m-10-32l24 5m-10-10l24-12m-10 14l24 2m-10-16l25 21m-11-3l25-9m-11-27l25 46m-10-53l24 45m-10-31l24-1m-10 4l24 15m-10-42l24 48m-10-50l25 29m-11 1l25-19m-11-20l25 32m-11-6l25 15m-10-30l24 4m-10-25l24 35m-10-40l24 23m-10-12l24 4m-10 3l25-2m-11-25l25-9m-11 25l25 11m-11 4l25-18m-10-25l24 20m-10-2l24-7m-10-24l24 26m-10 19l24-44m-10 11l25 0m-11-2l25 11m-11-6l25 0m-10-13l24 31m-10-53l24 24m-10-23l24 26m-10-4l24 10m-10-16l24 7m-10-21l25 15m-11-25l25 31m-11-28l25 3m-10-26l24 42m-10-38l24-9m-10 4l24 40m-10-48l24 22m-10-18l25 11m-11-38l25 40m-11-17l25 38m-11-72l25 40m-10 6l24-6m-10-20l24 23m-10-40l24 38m-10-32l24-2m-10 10l25-2m-11 9l25 15m-11-21l25 10m-11-28l25 5m-10-28l24 9m-10 14l24-10m-10 12l24 2m-10-20l24 37m-10-59l25 60m-11-34l25 0m-11 1l25-18m-10 24l24-26m-10 20l24-12m-10 4l24-14m-10 1l24 6m-10-5l25 4m-11-28l25 18m-11-16l25 23m-11-29l25 16m-10-35l24 33m-10-12l24 7m-10-32l24 36m-10-31l24 22"/>
<path d="M747 1748l14-43l15-7l14-6l14-12l14-6l14 0l14-3l14 19l14-25l15 4l14-11l14-17l14 9l14 17l14-27l14-22l14 16l15 5l14-12l14 19l14-8l14-32l14 19l14 6l15-21l14-18l14 12l14 9l14-26l14 10l14-17l14-8l15 1l14-34l14 36l14-14l14-5l14-9l14 2l14-25l15 11l14 9l14-6l14 18l14-29l14 3l14 6l14-9l15-6l14 6l14-25l14 16l14-47l14 44l14-26l15-7l14 2l14 21l14-32l14 0l14 3l14-2l14-34l15 8l14 24l14-11l14-23l14-19l14 4l14 14l14 17l15 1l14-34l14-17l14-2l14 8l14-10l14 7l15-1l14-10l14 7l14-13l14-2l14-5l14 4l14-9l15 0l24 10l-14-2l-14-6l-14 11l-15 34l-14-10l-14 9l-14-4l-14-14l-14 2l-14-7l-14 27l-15 11l-14-12l-14 16l-14-29l-14 37l-14-8l-14 4l-14-12l-15 26l-14 2l-14 19l-14-30l-14 12l-14 10l-14 1l-15-7l-14 2l-14 17l-14 7l-14 11l-14 16l-14-35l-14-3l-15 39l-14-3l-14 3l-14 0l-14 15l-14-3l-14 10l-14-14l-15 17l-14-2l-14 34l-14-10l-14 4l-14-5l-14-4l-14 24l-15-37l-14 23l-14-10l-14 33l-14-10l-14-12l-14 31l-15 4l-14-14l-14-2l-14-16l-14 49l-14-2l-14-12l-14 24l-15-31l-14 20l-14 20l-14-2l-14 14l-14-22l-14-3l-14 25l-15 15l-14-3l-14-5l-14-15l-14 28l-14 8l-14 19l-15-19l-14-19l-14 40l-14-25l-14 23l-14-12l-14 63zm14-43l25-12m-10 5l24 7m-10-13l24-10m-10-2l24 27m-10-33l24-7m-10 7l24 12m-10-15l25 34m-11-15l25-4m-11-21l25 13m-10-9l24-19m-10 8l24 7m-10-24l24 29m-10-20l24 23m-10-6l25-9m-11-18l25-7m-11-15l25 18m-11-2l25 24m-10-19l24 5m-10-17l24 19m-10 0l24-20m-10 12l24-32m-10 0l25 31m-11-12l25-12m-11 18l25-6m-10-15l24 17m-10-35l24-14m-10 26l24-10m-10 19l24-17m-10-9l24 23m-10-13l25 9m-11-26l25-5m-11-3l25 15m-10-14l24 24m-10-58l24 25m-10 11l24-1m-10-13l24-10m-10 5l25 32m-11-41l25 17m-11-15l25 19m-11-44l25 49m-10-38l24 34m-10-25l24 35m-10-41l24 7m-10 11l24-9m-10-20l25 3m-11 0l25 14m-11-8l25-2m-11-7l25 10m-10-16l24 1m-10 5l24-5m-10-20l24 17m-10-1l24 4m-10-51l25 12m-11 32l25-29m-11 3l25 32m-10-39l24 23m-10-21l24 10m-10 11l24-18m-10-14l24-3m-10 3l24-5m-10 8l25-1m-11-1l25 0m-11-34l25 24m-10-16l24 4m-10 20l24 10m-10-21l24 2m-10-25l24 23m-10-42l25 16m-11-12l25 24m-11-10l25 6m-11 11l25-3m-10 4l24-41m-10 7l24 22m-10-39l24 23m-10-25l24 37m-10-29l25 18m-11-28l25 1m-11 6l25 1m-10-2l24 0m-10-10l24 24m-10-17l24 21m-10-34l24 25m-10-27l24 37m-10-42l25 8m-11-4l25-7m-11-2l25 8"/>
<path d="M772 1756l14-63l14 12l14-23l14 25l14-40l14 19l15 19l14-19l14-8l14-28l14 15l14 5l14 3l15-15l14-25l14 3l14 22l14-14l14 2l14-20l14-20l15 31l14-24l14 12l14 2l14-49l14 16l14 2l14 14l15-4l14-31l14 12l14 10l14-33l14 10l14-23l15 37l14-24l14 4l14 5l14-4l14 10l14-34l14 2l15-17l14 14l14-10l14 3l14-15l14 0l14-3l14 3l15-39l14 3l14 35l14-16l14-11l14-7l14-17l14-2l15 7l14-1l14-10l14-12l14 30l14-19l14-2l15-26l14 12l14-4l14 8l14-37l14 29l14-16l14 12l15-11l14-27l14 7l14-2l14 14l14 4l14-9l14 10l15-34l14-11l14 6l14 2l24-6l-14 33l-14 0l-14-11l-14 21l-14-6l-14 3l-14-15l-15 23l-14-7l-14 15l-14-2l-14 20l-14-8l-14 10l-14 8l-15-6l-14 21l-14-24l-14 16l-14 24l-14-14l-14-5l-15-18l-14 31l-14 13l-14-12l-14-3l-14 2l-14 23l-14 12l-15-24l-14 19l-14-11l-14 14l-14-12l-14 6l-14 21l-14 21l-15-27l-14-3l-14 4l-14 19l-14 9l-14 5l-14-6l-15 13l-14 4l-14-7l-14 9l-14 20l-14-6l-14 3l-14-14l-15 25l-14-12l-14 5l-14 11l-14 1l-14 9l-14-2l-14 1l-15 26l-14-40l-14 32l-14 1l-14-10l-14 13l-14-8l-15 1l-14 40l-14-4l-14-8l-14-7l-14 33l-14-41l-14 30l-15 2l-14 13l-14 13l-14-6l-14-19l-14 23l-14-25l-14 36l-15-10l-14 23l-14 40zm14-63l24 36m-10-24l24 1m-10-24l25 34m-11-9l25-27m-11-13l25 38m-11-19l25-4m-10 23l24-4m-10-15l24 21m-10-29l24 16m-10-44l24 31m-10-16l25 14m-11-9l25-21m-11 24l25 17m-10-32l24-1m-10-24l24 31m-10-28l24 36m-10-14l24 18m-10-32l24-8m-10 10l25-11m-11-9l25 17m-11-37l25 24m-10 7l24 3m-10-27l24 26m-10-14l24-18m-10 20l24 20m-10-69l25 43m-11-27l25 26m-11-24l25 26m-11-12l25 3m-10-7l24 6m-10-37l24 26m-10-14l24 9m-10 1l24 11m-10-44l25 19m-11-9l25 23m-11-46l25 43m-10-6l24 12m-10-36l24 16m-10-12l24 3m-10 2l24 5m-10-9l24 5m-10 5l25-18m-11-16l25 22m-11-20l25 15m-10-32l24 23m-10-9l24-10m-10 0l24-4m-10 7l24-4m-10-11l25 38m-11-38l25 17m-11-20l25-1m-11 4l25-10m-10-29l24 41m-10-38l24 24m-10 11l24 0m-10-16l24-3m-10-8l25 32m-11-39l25 27m-11-44l25 21m-11-23l25 21m-10-14l24 17m-10-18l24 30m-10-40l24 27m-10-39l24 8m-10 22l25-4m-11-15l25 20m-11-22l25 36m-10-62l24 38m-10-26l24 10m-10-14l24 38m-10-30l24 9m-10-46l25 52m-11-23l25 15m-11-31l25 21m-11-9l25 17m-10-28l24 8m-10-35l24 37m-10-30l24 15m-10-17l24 24m-10-10l25-13m-11 17l25-2m-11-7l25 4m-11 6l25 0m-10-34l24 13m-10-24l24 35m-10-29l24 29"/>
<path d="M796 1769l14-40l14-23l15 10l14-36l14 25l14-23l14 19l14 6l14-13l14-13l15-2l14-30l14 41l14-33l14 7l14 8l14 4l14-40l15-1l14 8l14-13l14 10l14-1l14-32l14 40l15-26l14-1l14 2l14-9l14-1l14-11l14-5l14 12l15-25l14 14l14-3l14 6l14-20l14-9l14 7l14-4l15-13l14 6l14-5l14-9l14-19l14-4l14 3l15 27l14-21l14-21l14-6l14 12l14-14l14 11l14-19l15 24l14-12l14-23l14-2l14 3l14 12l14-13l14-31l15 18l14 5l14 14l14-24l14-16l14 24l14-21l15 6l14-8l14-10l14 8l14-20l14 2l14-15l14 7l15-23l14 15l14-3l14 6l14-21l14 11l14 0l14-33l25 42l-14-44l-14 29l-14 5l-15 18l-14-35l-14 17l-14 39l-14-20l-14-10l-14 24l-15-18l-14 51l-14-22l-14 1l-14-16l-14 1l-14 3l-14 41l-15-3l-14 1l-14 7l-14-2l-14-11l-14 14l-14-10l-14 14l-15-23l-14 44l-14 7l-14 2l-14 2l-14 1l-14 17l-15-10l-14-4l-14-13l-14 14l-14-2l-14-2l-14 34l-14-2l-15 8l-14-33l-14 42l-14-6l-14-12l-14 39l-14-18l-14 3l-15-20l-14 41l-14 6l-14-9l-14 8l-14-14l-14 29l-14-6l-15-3l-14 10l-14-18l-14 37l-14-16l-14 9l-14-9l-15 32l-14-9l-14 1l-14 15l-14-5l-14 3l-14-10l-14 21l-15 5l-14 12l-14-6l-14 12l-14 10l-14-6l-14-12l-14 10l-15 11l-14 5l-14 6l-14-30l-14 57l-14-9l-14 40zm14-40l25 15m-11-38l25 47m-10-37l24-20m-10-16l24 46m-10-21l24 15m-10-38l24 33m-10-14l25 3m-11 3l25-13m-11 0l25 12m-11-25l25 31m-10-33l24 23m-10-53l24 41m-10 0l24 6m-10-39l24 27m-10-20l25 15m-11-7l25-14m-11 18l25-8m-11-32l25 29m-10-30l24 35m-10-27l24 12m-10-25l24 24m-10-14l24 23m-10-24l25-8m-11-24l25 33m-11 7l25-16m-10-10l24 26m-10-27l24-10m-10 12l24 6m-10-15l24 5m-10-6l25 9m-11-20l25 26m-11-31l25 2m-11 10l25 4m-10-29l24 21m-10-7l24 16m-10-19l24 13m-10-7l24-34m-10 14l25 6m-11-15l25 12m-11-5l25 23m-11-27l25-12m-10-1l24 13m-10-7l24 13m-10-18l24-24m-10 15l24 18m-10-37l25 29m-11-33l25 35m-11-32l25-2m-10 29l24-27m-10 6l24-4m-10-17l24 3m-10-9l24 22m-10-10l24 14m-10-28l25 38m-11-27l25 10m-11-29l25 28m-10-4l24 2m-10-14l24 12m-10-35l24 28m-10-30l24-14m-10 17l25 6m-11 6l25-20m-11 7l25 3m-11-34l25 20m-10-2l24 13m-10-8l24 10m-10 4l24-11m-10-13l24 12m-10-28l25 31m-11-7l25-34m-11 13l25-16m-10 22l24-23m-10 15l24 1m-10-11l24 10m-10-2l24 24m-10-44l24-7m-10 9l25 9m-11-24l25 0m-11 7l25 3m-10-26l24 46m-10-31l24-8m-10 5l24-22m-10 28l24 7m-10-28l25 10m-11 1l25-6m-11 6l25-35"/>
<path d="M821 1784l14-40l14 9l14-57l14 30l14-6l14-5l15-11l14-10l14 12l14 6l14-10l14-12l14 6l14-12l15-5l14-21l14 10l14-3l14 5l14-15l14-1l14 9l15-32l14 9l14-9l14 16l14-37l14 18l14-10l15 3l14 6l14-29l14 14l14-8l14 9l14-6l14-41l15 20l14-3l14 18l14-39l14 12l14 6l14-42l14 33l15-8l14 2l14-34l14 2l14 2l14-14l14 13l14 4l15 10l14-17l14-1l14-2l14-2l14-7l14-44l15 23l14-14l14 10l14-14l14 11l14 2l14-7l14-1l15 3l14-41l14-3l14-1l14 16l14-1l14 22l14-51l15 18l14-24l14 10l14 20l14-39l14-17l14 35l15-18l14-5l14-29l14 44l24-29l-14 35l-14 5l-14-1l-14-17l-14 20l-14 17l-15-21l-14-4l-14 1l-14 46l-14-10l-14 20l-14-19l-14 12l-15-6l-14 18l-14 5l-14-10l-14 9l-14 16l-14-33l-15 24l-14 4l-14 15l-14-21l-14-3l-14 35l-14-12l-14 26l-15-21l-14-3l-14 4l-14 20l-14 29l-14-27l-14 5l-14 4l-15 25l-14-36l-14 6l-14 15l-14 2l-14 22l-14 5l-14-13l-15-10l-14 21l-14 22l-14-26l-14 25l-14 15l-14-5l-15 7l-14-23l-14 27l-14-36l-14 25l-14 18l-14-13l-14 20l-15-8l-14 14l-14 31l-14-67l-14 72l-14-41l-14 11l-14 19l-15-22l-14 47l-14-11l-14 6l-14-13l-14 21l-14-22l-15 8l-14 1l-14 13l-14 14l-14-16l-14 14l-14 12l-14 4l-15-28l-14 18l-14 20l-14 50zm14-40l24 3m-10 6l24-26m-10-31l24 13m-10 17l25 11m-11-17l25 13m-11-18l25 6m-10-17l24 3m-10-13l24 29m-10-17l24 3m-10 3l24-16m-10 6l24-7m-10-5l25-3m-11 9l25 13m-11-25l25 4m-10-9l24 22m-10-43l24 37m-10-27l24 38m-10-41l24-6m-10 11l25 11m-11-26l25 7m-11-8l25-3m-11 12l25 29m-10-61l24-11m-10 20l24 47m-10-56l24 25m-10-9l24-5m-10-32l25 40m-11-22l25 2m-11-12l25 25m-10-22l24 4m-10 2l24-27m-10-2l24 38m-10-24l24-3m-10-5l24 28m-10-19l25 12m-11-18l25 23m-11-64l25 49m-10-29l24 4m-10-7l24 33m-10-15l24-7m-10-32l24 11m-10 1l25 9m-11-3l25 16m-11-58l25 53m-11-20l25-2m-10-6l24 4m-10-2l24-13m-10-21l24 15m-10-13l24 49m-10-47l25 22m-11-36l25 32m-11-19l25 14m-11-10l25 37m-10-27l24-2m-10-15l24-5m-10 4l24-8m-10 6l24-3m-10 1l25 20m-11-27l25 1m-11-45l25 57m-10-34l24-1m-10-13l24 16m-10-6l24 27m-10-41l24 26m-10-15l24 11m-10-9l25-15m-11 8l25 25m-11-26l25 10m-10-7l24-2m-10-39l24 49m-10-52l24 47m-10-48l24 30m-10-14l25 20m-11-21l25 9m-11 13l25 6m-11-57l25 37m-10-19l24 29m-10-53l24 7m-10 3l24-4m-10 24l24-20m-10-19l25 40m-11-57l25 40m-11-5l25-15m-10-3l24 20m-10-25l24 26m-10-55l24 50"/>
<path d="M845 1797l14-50l14-20l14-18l15 28l14-4l14-12l14-14l14 16l14-14l14-13l14-1l15-8l14 22l14-21l14 13l14-6l14 11l14-47l15 22l14-19l14-11l14 41l14-72l14 67l14-31l14-14l15 8l14-20l14 13l14-18l14-25l14 36l14-27l14 23l15-7l14 5l14-15l14-25l14 26l14-22l14-21l15 10l14 13l14-5l14-22l14-2l14-15l14-6l14 36l15-25l14-4l14-5l14 27l14-29l14-20l14-4l14 3l15 21l14-26l14 12l14-35l14 3l14 21l14-15l14-4l15-24l14 33l14-16l14-9l14 10l14-5l14-18l15 6l14-12l14 19l14-20l14 10l14-46l14-1l14 4l15 21l14-17l14-20l14 17l14 1l14-5l14-35l25 41l-14-11l-14-10l-15 31l-14-6l-14-7l-14 35l-14-12l-14 8l-14-7l-14 24l-15 13l-14-1l-14-31l-14-9l-14-4l-14 49l-14 1l-15 4l-14-2l-14-4l-14 4l-14 1l-14 4l-14 31l-14-11l-15-28l-14 43l-14-22l-14 20l-14-18l-14 40l-14-1l-14-1l-15 12l-14-13l-14 23l-14-9l-14-9l-14 24l-14-3l-15-10l-14 35l-14 2l-14-10l-14 0l-14-11l-14 6l-14 4l-15 31l-14-14l-14 15l-14-2l-14-2l-14 9l-14 9l-14-3l-15-10l-14 14l-14 19l-14-31l-14 1l-14 25l-14 13l-14 2l-15 20l-14-1l-14-9l-14 8l-14 2l-14-8l-14-18l-15 45l-14-3l-14-33l-14 10l-14 23l-14-1l-14 13l-14 12l-15 20l-14-2l-14-17l-14-3l-14-4l-14 6l-14 7l-14 55zm14-50l25-4m-11-16l25 9m-11-27l25 21m-10 7l24-3m-10-1l24 4m-10-16l24 33m-10-47l24 49m-10-33l25 13m-11-27l25 15m-11-28l25 15m-11-16l25 17m-10-25l24 2m-10 20l24-30m-10 9l24 24m-10-11l24 14m-10-20l25-25m-11 36l25-18m-11-29l25 37m-10-15l24 13m-10-32l24 24m-10-35l24 44m-10-3l24 4m-10-76l25 56m-11 11l25-13m-11-18l25 5m-11-19l25-6m-10 14l24-15m-10-5l24 36m-10-23l24 4m-10-22l24 8m-10-33l25 43m-11-7l25 10m-11-37l25 28m-11-5l25-4m-10-3l24 5m-10 0l24 2m-10-17l24 2m-10-27l24 41m-10-15l25-16m-11-6l25 2m-11-23l25 17m-10-7l24 18m-10-5l24 5m-10-10l24 20m-10-42l24 40m-10-42l24 7m-10-22l25 32m-11-38l25 41m-11-5l25-19m-10-6l24 15m-10-19l24 28m-10-33l24 10m-10 17l24-4m-10-25l25 13m-11-33l25 34m-11-38l25 39m-11-36l25-4m-10 25l24-7m-10-19l24-1m-10 13l24 9m-10-44l24 1m-10 2l25 26m-11-5l25 16m-11-31l25 0m-11-4l25 0m-10-24l24 23m-10 10l24-14m-10-2l24 6m-10-15l24 17m-10-7l25 3m-11-8l25 7m-11-25l25-24m-10 30l24-26m-10 14l24-5m-10 24l24 7m-10-27l24 28m-10-18l25 5m-11-51l25 27m-11-28l25 35m-11-31l25 23m-10-2l24 14m-10-31l24-4m-10-16l24 23m-10-6l24 12m-10-11l25-20m-11 15l25-5"/>
<path d="M870 1798l14-55l14-7l14-6l14 4l14 3l14 17l14 2l15-20l14-12l14-13l14 1l14-23l14-10l14 33l14 3l15-45l14 18l14 8l14-2l14-8l14 9l14 1l15-20l14-2l14-13l14-25l14-1l14 31l14-19l14-14l15 10l14 3l14-9l14-9l14 2l14 2l14-15l14 14l15-31l14-4l14-6l14 11l14 0l14 10l14-2l14-35l15 10l14 3l14-24l14 9l14 9l14-23l14 13l15-12l14 1l14 1l14-40l14 18l14-20l14 22l14-43l15 28l14 11l14-31l14-4l14-1l14-4l14 4l14 2l15-4l14-1l14-49l14 4l14 9l14 31l14 1l15-13l14-24l14 7l14-8l14 12l14-35l14 7l14 6l15-31l14 10l14 11l24 17l-14-24l-14 4l-14 2l-14 3l-14-2l-15 13l-14 13l-14 33l-14-22l-14 0l-14 12l-14-17l-14 18l-15 23l-14-5l-14-3l-14 6l-14-4l-14 10l-14-9l-14-12l-15 0l-14 28l-14 12l-14-16l-14-3l-14 29l-14 13l-15-13l-14-3l-14 21l-14 0l-14 12l-14-2l-14-3l-14-4l-15 35l-14-26l-14 25l-14-25l-14 16l-14 33l-14-24l-14 9l-15-10l-14 21l-14-7l-14 11l-14 13l-14-17l-14-8l-14 41l-15-11l-14 1l-14 0l-14 13l-14-15l-14 38l-14-37l-15 21l-14-2l-14 18l-14-39l-14 47l-14 2l-14 7l-14 7l-15-6l-14 5l-14-11l-14-2l-14 23l-14 16l-14 5l-14 5l-15-21l-14 20l-14 12l-14-27l-14 46l-14-38l-14 0l-15 32l-14-1l-14 8l-14-8l-14 56zm14-55l24 15m-10-22l24 30m-10-36l24 28m-10-24l24 25m-10-22l25-10m-11 27l25-27m-11 29l25 9m-10-29l24-17m-10 5l24 22m-10-35l24 23m-10-22l24 2m-10-25l25 46m-11-56l25 51m-11-18l25 13m-11-10l25-6m-10-39l24 16m-10 2l24 0m-10 8l24 3m-10-5l24 0m-10-8l25 14m-11-5l25-2m-11 3l25-10m-10-10l24 8m-10-10l24-37m-10 24l24 15m-10-40l24 22m-10-23l24 25m-10 6l25-27m-11 8l25 29m-11-43l25 5m-10 5l24 10m-10-7l24-6m-10-3l24 3m-10-12l24 11m-10-9l25 20m-11-18l25-23m-11 8l25 0m-11 14l25 3m-10-34l24 21m-10-25l24 14m-10-20l24 27m-10-16l24-5m-10 5l25 5m-11 5l25-14m-11 12l25 12m-11-47l25 14m-10-4l24-12m-10 15l24 10m-10-34l24 9m-10 0l24 26m-10-17l25-18m-11-5l25 9m-11 4l25-1m-10-11l24 13m-10-12l24 0m-10 1l24-1m-10-39l24 18m-10 0l24 3m-10-23l25 36m-11-14l25 1m-11-44l25 15m-10 13l24-10m-10 21l24-5m-10-26l24 14m-10-18l24-10m-10 9l25-9m-11 5l25 7m-11-3l25 12m-11-10l25 0m-10-4l24 8m-10-9l24 3m-10-52l24 55m-10-51l24 56m-10-47l25 24m-11 7l25-25m-11 26l25-9m-10-4l24-8m-10-16l24 16m-10-9l24 31m-10-39l24 6m-10 6l24-19m-10-16l25 3m-11 4l25-2m-11 8l25-11m-10-20l24 18m-10-8l24 4"/>
<path d="M894 1814l14-56l14 8l14-8l14 1l15-32l14 0l14 38l14-46l14 27l14-12l14-20l15 21l14-5l14-5l14-16l14-23l14 2l14 11l14-5l15 6l14-7l14-7l14-2l14-47l14 39l14-18l14 2l15-21l14 37l14-38l14 15l14-13l14 0l14-1l15 11l14-41l14 8l14 17l14-13l14-11l14 7l14-21l15 10l14-9l14 24l14-33l14-16l14 25l14-25l14 26l15-35l14 4l14 3l14 2l14-12l14 0l14-21l14 3l15 13l14-13l14-29l14 3l14 16l14-12l14-28l15 0l14 12l14 9l14-10l14 4l14-6l14 3l14 5l15-23l14-18l14 17l14-12l14 0l14 22l14-33l14-13l15-13l14 2l14-3l14-2l14-4l14 24l25-25l-14 11l-15-10l-14 38l-14-6l-14 7l-14-1l-14 2l-14 9l-14 1l-15 4l-14-9l-14 8l-14 28l-14-5l-14 3l-14 14l-14 23l-15-17l-14-27l-14 7l-14-2l-14 33l-14-34l-14 34l-15 20l-14-41l-14 42l-14-14l-14 5l-14 5l-14 11l-14 0l-15 11l-14 8l-14 3l-14-7l-14 12l-14-19l-14 14l-14 7l-15 11l-14 4l-14-12l-14 11l-14 23l-14-27l-14 37l-15-18l-14-29l-14 41l-14 17l-14-13l-14 35l-14-26l-14 14l-15-6l-14-9l-14 14l-14 12l-14 2l-14-14l-14 5l-14 28l-15-12l-14 24l-14-12l-14 7l-14 3l-14 23l-14-1l-14-12l-15 7l-14-5l-14 40l-14-48l-14-7l-14 12l-14 38l-15-2l-14 5l-14 3l-14 11l-14-2l-14-7l-14 31l-14-15l-15 37zm14-56l25 19m-11-11l25 26m-11-34l25 3m-11-2l25 9m-10-41l24 43m-10-43l24 32m-10 6l24-9m-10-37l24 32m-10-5l25 7m-11-19l25-19m-11-1l25-11m-10 32l24-25m-10 20l24 28m-10-33l24-7m-10-9l24 14m-10-37l25 30m-11-28l25 40m-11-29l25 30m-11-35l25 12m-10-6l24 3m-10-10l24 3m-10-10l24 22m-10-24l24 0m-10-47l25 59m-11-20l25-8m-11-10l25 5m-11-3l25 17m-10-38l24 36m-10 1l24-13m-10-25l24 11m-10 4l24 5m-10-18l25 24m-11-24l25 10m-11-11l25 37m-10-26l24-9m-10-32l24 45m-10-37l24 20m-10-3l24-38m-10 25l24 4m-10-15l25 33m-11-26l25-11m-11-10l25 37m-10-27l24 4m-10-13l24 2m-10 22l24-10m-10-23l24 19m-10-35l25 24m-11 1l25-8m-11-17l25 3m-11 23l25-4m-10-31l24 19m-10-15l24 22m-10-19l24 16m-10-14l24 6m-10-18l25 7m-11-7l25 7m-11-28l25 17m-11-14l25 9m-10 4l24-9m-10-4l24 18m-10-47l24 5m-10-2l24 43m-10-27l25 7m-11-19l25-15m-11-13l25 47m-10-47l24 14m-10-2l24 4m-10 5l24-12m-10 2l24 25m-10-21l25 38m-11-44l25 21m-11-18l25 4m-11 1l25-4m-10-19l24 24m-10-42l24 14m-10 3l24-11m-10-1l24 10m-10-10l25 6m-11 16l25-17m-11-16l25 7m-11-20l25 18m-10-31l24 32m-10-30l24 23m-10-26l24 32m-10-34l24-4m-10 0l25 10"/>
<path d="M918 1814l15-37l14 15l14-31l14 7l14 2l14-11l14-3l14-5l15 2l14-38l14-12l14 7l14 48l14-40l14 5l15-7l14 12l14 1l14-23l14-3l14-7l14 12l14-24l15 12l14-28l14-5l14 14l14-2l14-12l14-14l14 9l15 6l14-14l14 26l14-35l14 13l14-17l14-41l14 29l15 18l14-37l14 27l14-23l14-11l14 12l14-4l15-11l14-7l14-14l14 19l14-12l14 7l14-3l14-8l15-11l14 0l14-11l14-5l14-5l14 14l14-42l14 41l15-20l14-34l14 34l14-33l14 2l14-7l14 27l15 17l14-23l14-14l14-3l14 5l14-28l14-8l14 9l15-4l14-1l14-9l14-2l14 1l14-7l14 6l14-38l15 10l14-11l24 43l-14-14l-14 23l-14-18l-14 0l-14-6l-15 25l-14 0l-14 17l-14-7l-14 20l-14 2l-14-14l-15 22l-14-19l-14 18l-14-14l-14 6l-14 5l-14 27l-14-12l-15 5l-14 16l-14-29l-14 26l-14-12l-14 28l-14-36l-14 20l-15 35l-14 7l-14-37l-14 23l-14 17l-14 1l-14 19l-15-37l-14 36l-14-15l-14 3l-14 12l-14-20l-14 26l-14 11l-15 0l-14-16l-14 35l-14-20l-14 13l-14-15l-14 48l-14-48l-15 10l-14 1l-14 26l-14 4l-14-28l-14 25l-14 25l-14 13l-15-19l-14 0l-14-1l-14 24l-14-20l-14 15l-14 1l-15 13l-14 5l-14-4l-14 18l-14-10l-14 1l-14 32l-14-33l-15 32l-14 7l-14-17l-14 18l-14 7l-14-18l-14 14l-14-3l-15-6l-14 22l-14 9l-14-1l-14 42zm15-37l24 13m-10 2l24-1m-10-30l24 21m-10-14l24-8m-10 10l25-4m-11-7l25 10m-11-13l25-1m-11-4l25 22m-10-20l24 13m-10-51l24 33m-10-45l24 62m-10-55l24 48m-10 0l25-32m-11-8l25 41m-11-36l25 4m-10-11l24 10m-10 2l24 8m-10-7l24-11m-10-12l24 16m-10-19l24 14m-10-21l25 8m-11 4l25-5m-11-19l25 4m-10 8l24 12m-10-40l24 16m-10-21l24 22m-10-8l24 8m-10-10l25 29m-11-41l25 28m-11-42l25 17m-11-8l25-17m-10 23l24 5m-10-19l24 15m-10 11l24-37m-10 2l24-3m-10 16l25-26m-11 9l25 39m-11-80l25 32m-11-3l25 18m-10 0l24-13m-10-24l24 44m-10-17l24-18m-10-5l24 21m-10-32l25 32m-11-20l25 9m-11-13l25-13m-10 2l24 18m-10-25l24 13m-10-27l24 24m-10-5l24 20m-10-32l24-4m-10 11l25 26m-11-29l25 10m-11-18l25 17m-10-28l24 11m-10-11l24-12m-10 1l24 36m-10-41l24 34m-10-39l25 4m-11 10l25-30m-11-12l25 48m-11-7l25-21m-10 1l24 11m-10-45l24 19m-10 15l24 14m-10-47l24 31m-10-29l25 24m-11-31l25 43m-11-16l25-11m-10 28l24-33m-10 10l24-16m-10 2l24 12m-10-15l24-3m-10 8l24 11m-10-39l25 17m-11-25l25 39m-11-30l25 28m-10-32l24 12m-10-13l24 20m-10-29l24 12m-10-14l24 14m-10-13l25-12m-11 5l25 1m-11 5l25-5m-11-33l25 51m-10-41l24 18"/>
<path d="M943 1832l14-42l14 1l14-9l14-22l15 6l14 3l14-14l14 18l14-7l14-18l14 17l14-7l15-32l14 33l14-32l14-1l14 10l14-18l14 4l14-5l15-13l14-1l14-15l14 20l14-24l14 1l14 0l15 19l14-13l14-25l14-25l14 28l14-4l14-26l14-1l15-10l14 48l14-48l14 15l14-13l14 20l14-35l14 16l15 0l14-11l14-26l14 20l14-12l14-3l14 15l14-36l15 37l14-19l14-1l14-17l14-23l14 37l14-7l15-35l14-20l14 36l14-28l14 12l14-26l14 29l14-16l15-5l14 12l14-27l14-5l14-6l14 14l14-18l14 19l15-22l14 14l14-2l14-20l14 7l14-17l14 0l15-25l14 6l14 0l14 18l14-23l14 14l25 26l-15-6l-14-16l-14 18l-14-5l-14 4l-14 25l-14-8l-14 14l-15-17l-14-20l-14 14l-14 6l-14 30l-14-7l-14 16l-14-5l-15-4l-14 19l-14-25l-14 30l-14 11l-14-13l-14-23l-14 43l-15-10l-14 9l-14 17l-14-13l-14-1l-14 25l-14-20l-15-16l-14 26l-14 2l-14-8l-14 22l-14 10l-14-6l-14-3l-15 9l-14 9l-14 22l-14-29l-14 23l-14 5l-14 10l-14-34l-15 28l-14 14l-14-19l-14-9l-14 30l-14 8l-14-34l-15 40l-14-12l-14 25l-14-24l-14 5l-14 36l-14-13l-14 20l-15-18l-14 28l-14-3l-14-25l-14 41l-14-1l-14-30l-14 36l-15 6l-14-15l-14 7l-14-26l-14 26l-14 24l-14-14l-15 13l-14 8l-14-3l-14 14l-14-25l-14 23l-14-32l-14 37l-15 15l-14 34zm14-42l24 18m-10-17l25 2m-11-11l25-26m-11 4l25 28m-10-22l24-1m-10 4l24 21m-10-35l24 21m-10-3l24 6m-10-13l24 5m-10-23l25 10m-11 7l25 7m-11-14l25-10m-10-22l24-4m-10 37l24-11m-10-21l24 14m-10-15l24 30m-10-20l25 14m-11-32l25-4m-11 8l25 22m-11-27l25 28m-10-41l24 0m-10-1l24 26m-10-41l24 44m-10-24l24-4m-10-20l25 38m-11-37l25 17m-11-17l25 30m-10-11l24-25m-10 12l24-17m-10-8l24 32m-10-57l24 32m-10-4l24 16m-10-20l25-20m-11-6l25 40m-11-41l25 33m-10-43l24 13m-10 35l24-26m-10-22l24 41m-10-26l24 12m-10-25l25-3m-11 23l25 11m-11-46l25 36m-11-20l25 15m-10-15l24-8m-10-3l24 32m-10-58l24 36m-10-16l24 7m-10-19l25 10m-11-13l25 16m-11-1l25 7m-11-43l25 33m-10 4l24-26m-10 7l24 1m-10-2l24 0m-10-17l24-9m-10-14l25 30m-11 7l25 13m-11-20l25-5m-10-30l24 31m-10-51l24 64m-10-28l24 11m-10-39l24 30m-10-18l25 28m-11-54l25 11m-11 18l25 5m-11-21l25 34m-10-39l24 28m-10-16l24-14m-10-13l24 38m-10-43l24 24m-10-30l25 34m-11-20l25 25m-11-43l25 27m-11-8l25 15m-10-37l24 7m-10 7l24-13m-10 11l24-25m-10 5l24 15m-10-8l25 25m-11-42l25 28m-11-28l25 36m-10-61l24 36m-10-30l24 26m-10-26l24 31m-10-13l24-5m-10-18l24 34"/>
<path d="M967 1842l14-34l15-15l14-37l14 32l14-23l14 25l14-14l14 3l14-8l15-13l14 14l14-24l14-26l14 26l14-7l14 15l15-6l14-36l14 30l14 1l14-41l14 25l14 3l14-28l15 18l14-20l14 13l14-36l14-5l14 24l14-25l14 12l15-40l14 34l14-8l14-30l14 9l14 19l14-14l15-28l14 34l14-10l14-5l14-23l14 29l14-22l14-9l15-9l14 3l14 6l14-10l14-22l14 8l14-2l14-26l15 16l14 20l14-25l14 1l14 13l14-17l14-9l15 10l14-43l14 23l14 13l14-11l14-30l14 25l14-19l15 4l14 5l14-16l14 7l14-30l14-6l14-14l14 20l15 17l14-14l14 8l14-25l14-4l14 5l14-18l14 16l15 6l24-13l-14-8l-14 15l-14 0l-14 17l-15 5l-14-41l-14 34l-14 5l-14-19l-14 54l-14-22l-14-7l-15 2l-14 22l-14-30l-14 10l-14 5l-14 27l-14 12l-15 7l-14-7l-14 20l-14-16l-14 5l-14 16l-14-1l-14 8l-15-3l-14-10l-14 2l-14 31l-14-15l-14 0l-14 6l-14 5l-15-13l-14 38l-14-10l-14 17l-14 7l-14-11l-14-25l-15 32l-14 9l-14-12l-14 25l-14-4l-14-5l-14-6l-14 13l-15-4l-14 46l-14-44l-14 5l-14 17l-14 3l-14 13l-14 20l-15-24l-14 6l-14-12l-14 42l-14 2l-14-31l-14 28l-14 2l-15-1l-14 3l-14-31l-14 32l-14 9l-14 7l-14 3l-15-4l-14 25l-14-5l-14-2l-14 20l-14-4l-14-39l-14 45l-15 1l-14-2l-14-3l-14 11l-14 11l-14 35zm14-34l25 5m-10-20l24 9m-10-46l24 35m-10-3l24 6m-10-29l24 31m-10-6l25 5m-11-19l25-26m-11 29l25 10m-11-18l25 22m-10-35l24 15m-10-1l24 3m-10-27l24 32m-10-58l24 33m-10-7l25 11m-11-18l25 15m-11 0l25-7m-10 1l24-10m-10-26l24-6m-10 36l24-5m-10 6l24-9m-10-32l25 33m-11-8l25 6m-11-3l25-25m-11-3l25 34m-10-16l24 14m-10-34l24-8m-10 21l24-9m-10-27l24 21m-10-26l25 50m-11-26l25 6m-11-31l25 18m-11-6l25 3m-10-43l24 26m-10 8l24-13m-10 5l24 39m-10-69l24 23m-10-14l25 18m-11 1l25-14m-11 0l25 6m-10-34l24 39m-10-5l24 9m-10-19l24-6m-10 1l24 11m-10-34l24 25m-10 4l25-36m-11 14l25 11m-11-20l25 31m-10-40l24 33m-10-30l24 13m-10-7l24 17m-10-27l24-11m-10-11l25 24m-11-16l25 11m-11-13l25 7m-11-33l25 33m-10-17l24 32m-10-12l24-19m-10-6l24 4m-10-3l24 13m-10 0l25 3m-11-20l25 12m-11-21l25 22m-10-12l24-4m-10-39l24 34m-10-11l24 27m-10-14l24-6m-10-5l24 12m-10-42l25 35m-11-10l25-2m-11-17l25-10m-10 14l24-19m-10 24l24-34m-10 18l24 12m-10-5l24-17m-10-13l25 11m-11-17l25 24m-11-38l25 60m-11-40l25-14m-10 31l24-12m-10-2l24-3m-10 11l24-45m-10 20l24 21m-10-25l25 20m-11-15l25-2m-11-16l25 16m-11 0l25-15"/>
<path d="M992 1848l14-35l14-11l14-11l14 3l14 2l15-1l14-45l14 39l14 4l14-20l14 2l14 5l14-25l15 4l14-3l14-7l14-9l14-32l14 31l14-3l15 1l14-2l14-28l14 31l14-2l14-42l14 12l14-6l15 24l14-20l14-13l14-3l14-17l14-5l14 44l14-46l15 4l14-13l14 6l14 5l14 4l14-25l14 12l14-9l15-32l14 25l14 11l14-7l14-17l14 10l14-38l15 13l14-5l14-6l14 0l14 15l14-31l14-2l14 10l15 3l14-8l14 1l14-16l14-5l14 16l14-20l14 7l15-7l14-12l14-27l14-5l14-10l14 30l14-22l15-2l14 7l14 22l14-54l14 19l14-5l14-34l14 41l15-5l14-17l14 0l14-15l14 8l25 0l-15 13l-14-14l-14 31l-14 2l-14-9l-14 3l-14 9l-15 22l-14-12l-14 9l-14-1l-14 26l-14-39l-14 34l-14-7l-15-11l-14-15l-14 34l-14 12l-14 0l-14 9l-14-2l-14 12l-15-13l-14 12l-14 2l-14-5l-14 16l-14-15l-14 28l-15-9l-14-24l-14 56l-14-25l-14 11l-14 14l-14-14l-14 18l-15-22l-14 31l-14-2l-14 2l-14 3l-14 1l-14-21l-14 26l-15 9l-14 4l-14 2l-14 17l-14-35l-14 25l-14 21l-14-10l-15-14l-14 21l-14 16l-14-23l-14 20l-14 0l-14 18l-15-12l-14 0l-14-3l-14 43l-14-19l-14 6l-14 21l-14 5l-15-14l-14 11l-14 17l-14-20l-14 13l-14-21l-14 14l-14 23l-15 5l-14-4l-14-16l-14 7l-14 2l-14 12l-14-6l-15 15l-14 27l-14 26zm14-35l24 24m-10-35l24 8m-10-19l25 4m-11-1l25 7m-11-5l25-7m-10 6l24-8m-10-37l24 30m-10 9l24 7m-10-3l24 7m-10-27l25 22m-11-20l25-3m-11 8l25-22m-11-3l25 24m-10-20l24 7m-10-10l24 30m-10-37l24 20m-10-29l24 18m-10-50l25 64m-11-33l25 28m-11-31l25 10m-10-9l24 3m-10-5l24 24m-10-52l24 9m-10 22l24-19m-10 17l24-17m-10-25l25 37m-11-25l25 7m-11-13l25 13m-10 11l24-31m-10 11l24 12m-10-25l24 9m-10-12l24-9m-10-8l25 22m-11-27l25 37m-11 7l25-28m-11-18l25-7m-10 11l24 24m-10-37l24 20m-10-14l24 12m-10-7l24 3m-10 1l25-10m-11-15l25-11m-11 23l25-2m-11-7l25 6m-10-38l24 35m-10-10l24 8m-10 3l24-1m-10-6l24-25m-10 8l25 14m-11-4l25-14m-11-24l25 38m-10-25l24 11m-10-16l24 5m-10-11l24 36m-10-36l24-20m-10 35l24-11m-10-20l25 29m-11-31l25 3m-11 7l25 8m-10-5l24-11m-10 3l24 2m-10-1l24-1m-10-15l24 3m-10-8l25 21m-11-5l25-7m-11-13l25 15m-11-8l25-1m-10-6l24 6m-10-18l24 6m-10-33l24-1m-10-4l24 19m-10-29l25 40m-11-10l25 17m-11-39l25 5m-10-7l24 46m-10-39l24 13m-10 9l24-8m-10-46l24 37m-10-18l24 30m-10-35l25 13m-11-47l25 38m-11 3l25-6m-10 1l24 8m-10-25l24 23m-10-23l24-8m-10-7l24 21"/>
<path d="M1016 1863l14-26l14-27l15-15l14 6l14-12l14-2l14-7l14 16l14 4l15-5l14-23l14-14l14 21l14-13l14 20l14-17l14-11l15 14l14-5l14-21l14-6l14 19l14-43l14 3l14 0l15 12l14-18l14 0l14-20l14 23l14-16l14-21l15 14l14 10l14-21l14-25l14 35l14-17l14-2l14-4l15-9l14-26l14 21l14-1l14-3l14-2l14 2l14-31l15 22l14-18l14 14l14-14l14-11l14 25l14-56l14 24l15 9l14-28l14 15l14-16l14 5l14-2l14-12l15 13l14-12l14 2l14-9l14 0l14-12l14-34l14 15l15 11l14 7l14-34l14 39l14-26l14 1l14-9l14 12l15-22l14-9l14-3l14 9l14-2l14-31l14 14l15-13l24 12l-14 11l-14-29l-14 46l-15-4l-14 24l-14-29l-14 13l-14 26l-14-20l-14 3l-14 19l-15 15l-14-18l-14-5l-14 8l-14 8l-14 14l-14-7l-14-7l-15 26l-14-13l-14 10l-14-2l-14 10l-14 4l-14-3l-15 24l-14-30l-14 26l-14-18l-14 12l-14 10l-14 5l-14-5l-15 22l-14-8l-14 34l-14-16l-14 7l-14-15l-14 16l-14 1l-15 26l-14-37l-14-2l-14 56l-14-14l-14-35l-14 49l-15 2l-14 5l-14-17l-14 13l-14 5l-14-35l-14-4l-14 61l-15-26l-14 5l-14 31l-14-3l-14 3l-14 7l-14 10l-14 2l-15-4l-14 4l-14 13l-14-7l-14 7l-14 9l-14 0l-14-6l-15-7l-14 15l-14 13l-14 17l-14-29l-14-3l-14 26l-15 8l-14-15l-14 23l-14-2l-14-9l-14 30l-14 30zm14-26l25 9m-11-36l25 6m-10-21l24 30m-10-24l24 26m-10-38l24 15m-10-17l24 32m-10-39l25 31m-11-15l25-11m-11 15l25-12m-10 7l24 22m-10-45l24 28m-10-42l24 29m-10-8l24-7m-10-6l25 13m-11 7l25-1m-11-16l25 16m-11-27l25 18m-10-4l24-3m-10-2l24 9m-10-30l24 17m-10-23l24 19m-10 0l25 4m-11-47l25 45m-11-42l25 32m-11-32l25 25m-10-13l24 10m-10-28l24 31m-10-31l24 0m-10-20l24 15m-10 8l25 18m-11-34l25-27m-11 6l25-2m-10 16l24 19m-10-9l24 4m-10-25l24 12m-10-37l24 54m-10-19l24 14m-10-31l25 29m-11-31l25-18m-11 14l25 21m-10-30l24 44m-10-70l24 14m-10 7l24-5m-10 4l24 33m-10-36l25 10m-11-12l25 11m-11-9l25-7m-11-24l25 39m-10-17l24 10m-10-28l24 44m-10-30l24-4m-10-10l24 18m-10-29l25 7m-11 18l25-13m-11-43l25 38m-11-14l25 4m-10 5l24-17m-10-11l24 29m-10-14l24-12m-10-4l24 34m-10-29l25 5m-11-7l25 10m-11-22l25 18m-10-5l24-5m-10-7l24 9m-10-7l24-3m-10-6l24 19m-10-19l25-7m-11-5l25 12m-11-46l25 53m-11-38l25 24m-10-13l24 5m-10 2l24-10m-10-24l24 29m-10 10l24 8m-10-34l25 19m-11-18l25-1m-11-8l25 5m-11 7l25 13m-10-35l24 9m-10-18l24 5m-10-8l24 37m-10-28l24 4m-10-6l25 10m-11-41l25-5m-11 19l25 10"/>
<path d="M1041 1876l14-30l14-30l14 9l14 2l14-23l14 15l15-8l14-26l14 3l14 29l14-17l14-13l14-15l15 7l14 6l14 0l14-9l14-7l14 7l14-13l14-4l15 4l14-2l14-10l14-7l14-3l14 3l14-31l14-5l15 26l14-61l14 4l14 35l14-5l14-13l14 17l14-5l15-2l14-49l14 35l14 14l14-56l14 2l14 37l15-26l14-1l14-16l14 15l14-7l14 16l14-34l14 8l15-22l14 5l14-5l14-10l14-12l14 18l14-26l14 30l15-24l14 3l14-4l14-10l14 2l14-10l14 13l15-26l14 7l14 7l14-14l14-8l14-8l14 5l14 18l15-15l14-19l14-3l14 20l14-26l14-13l14 29l14-24l15 4l14-46l14 29l14-11l24 24l-14-18l-14 23l-14 13l-14-8l-14 11l-14-16l-14-27l-15 32l-14 22l-14-1l-14-3l-14 6l-14 18l-14 5l-15 11l-14-35l-14 18l-14 13l-14-27l-14 2l-14 39l-14-10l-15-15l-14 15l-14 29l-14-26l-14 15l-14 10l-14 31l-14-20l-15-8l-14 36l-14-30l-14 13l-14 9l-14-11l-14 23l-15 8l-14-9l-14 0l-14 17l-14-6l-14 18l-14 11l-14-35l-15 1l-14 29l-14 12l-14-16l-14 2l-14 27l-14-26l-14 31l-15 4l-14-6l-14-6l-14 48l-14-34l-14 29l-14-14l-14 0l-15 18l-14 11l-14-21l-14 1l-14 13l-14-4l-14-2l-15 29l-14-10l-14 27l-14-21l-14-7l-14 2l-14 39l-14-18l-15-8l-14 16l-14 10l-14-4l-14-3l-14-8l-14 0l-14 22l-15-2l-14 19l-14 45zm14-30l24-3m-10-27l24 8m-10 1l25 1m-11 1l25-23m-11 0l25 0m-11 15l25-7m-10-1l24 4m-10-30l24 34m-10-31l24 21m-10 8l24-24m-10 7l25 1m-11-14l25 32m-11-47l25 8m-10-1l24-1m-10 7l24 0m-10 0l24 21m-10-30l24 3m-10-10l24 20m-10-13l25-16m-11 3l25-1m-11-3l25 7m-10-3l24-10m-10 8l24-9m-10-1l24 22m-10-29l24 18m-10-21l25 3m-11 0l25 0m-11-31l25 45m-11-50l25 21m-10 5l24 29m-10-90l24 42m-10-38l24 44m-10-9l24 15m-10-20l25 16m-11-29l25-2m-11 19l25 7m-11-12l25-15m-10 13l24-15m-10-34l24 50m-10-15l24 3m-10 11l24-40m-10-16l25 15m-11-13l25 48m-11-11l25 0m-10-26l24 8m-10-9l24 15m-10-31l24 14m-10 1l24-1m-10-6l24 15m-10 1l25-9m-11-25l25 2m-11 6l25 5m-10-27l24 18m-10-13l24 0m-10-5l24 35m-10-45l24 9m-10-21l25 29m-11-11l25 31m-11-57l25 26m-11 4l25-14m-10-10l24-5m-10 8l24 18m-10-22l24-7m-10-3l24-12m-10 14l25 1m-11-11l25 21m-11-8l25-31m-10 5l24-7m-10 14l24 13m-10-6l24-7m-10-7l24-11m-10 3l24 32m-10-40l25 29m-11-24l25 19m-11-1l25-17m-10 2l24-8m-10-11l24 14m-10-17l24 18m-10 2l24-24m-10-2l25-30m-11 17l25 10m-11 19l25-3m-11-21l25 10m-10-6l24 14m-10-60l24 47m-10-18l24-5"/>
<path d="M1065 1888l14-45l14-19l15 2l14-22l14 0l14 8l14 3l14 4l14-10l14-16l15 8l14 18l14-39l14-2l14 7l14 21l14-27l14 10l15-29l14 2l14 4l14-13l14-1l14 21l14-11l15-18l14 0l14 14l14-29l14 34l14-48l14 6l14 6l15-4l14-31l14 26l14-27l14-2l14 16l14-12l14-29l15-1l14 35l14-11l14-18l14 6l14-17l14 0l14 9l15-8l14-23l14 11l14-9l14-13l14 30l14-36l15 8l14 20l14-31l14-10l14-15l14 26l14-29l14-15l15 15l14 10l14-39l14-2l14 27l14-13l14-18l14 35l15-11l14-5l14-18l14-6l14 3l14 1l14-22l15-32l14 27l14 16l14-11l14 8l14-13l14-23l14 18l25 16l-14 8l-14-14l-15 39l-14-52l-14 3l-14 45l-14-22l-14-7l-14 34l-14 8l-15-20l-14 9l-14 22l-14-2l-14-26l-14 39l-14 3l-14-8l-15 12l-14-4l-14-26l-14 37l-14-9l-14 1l-14 2l-14 45l-15-17l-14-39l-14 39l-14 9l-14 6l-14 2l-14 25l-15-36l-14 38l-14-18l-14 9l-14-3l-14 21l-14-12l-14 11l-15-11l-14 11l-14 20l-14-28l-14 29l-14-32l-14 16l-14 16l-15 12l-14-10l-14 14l-14 6l-14 6l-14-11l-14 14l-15 10l-14-17l-14 14l-14 27l-14-49l-14 43l-14 14l-14-18l-15-5l-14 32l-14-6l-14-3l-14 25l-14-13l-14 15l-14-12l-15-5l-14 19l-14-21l-14 38l-14-9l-14-2l-14 22l-14-3l-15 2l-14 1l-14 6l-14 12l-14-18l-14 26l-14 35zm14-45l25 22m-11-41l25 15m-10-13l24 31m-10-53l24 41m-10-41l24 35m-10-27l24 26m-10-23l25 21m-11-17l25 20m-11-30l25 8m-11-24l25 26m-10-18l24 27m-10-9l24-29m-10-10l24 31m-10-33l24 14m-10-7l25 12m-11 9l25 3m-11-30l25 15m-11-5l25 18m-10-47l24 22m-10-20l24 23m-10-19l24 25m-10-38l24 6m-10-7l25 12m-11 9l25 9m-11-20l25 6m-10-24l24-19m-10 19l24 30m-10-16l24-11m-10-18l24 4m-10 30l24-13m-10-35l25 25m-11-19l25 5m-11 1l25 10m-10-14l24 8m-10-39l24 33m-10-7l24-7m-10-20l24 30m-10-32l25 20m-11-4l25-12m-11 0l25-16m-11-13l25 45m-10-46l24 17m-10 18l24 10m-10-21l24 1m-10-19l24 8m-10-2l25 13m-11-30l25 19m-11-19l25 31m-11-22l25 1m-10-9l24 12m-10-35l24 26m-10-15l24 33m-10-42l24 4m-10-17l25 53m-11-23l25-2m-11-34l25 32m-10-24l24 18m-10 2l24-11m-10-20l24-19m-10 9l24 30m-10-45l25 62m-11-36l25-9m-11-20l25 18m-11-33l25 32m-10-17l24 26m-10-16l24-21m-10-18l24 44m-10-46l24 50m-10-23l25 11m-11-24l25 32m-11-50l25 47m-11-12l25-27m-10 16l24 10m-10-15l24 17m-10-35l24 13m-10-19l24 10m-10-7l25 27m-11-26l25 18m-11-40l25 6m-10-38l24 45m-10-18l24 40m-10-24l24-21m-10 10l24-13m-10 21l24 31m-10-44l25 5m-11-28l25 42"/>
<path d="M1090 1900l14-35l14-26l14 18l14-12l14-6l14-1l15-2l14 3l14-22l14 2l14 9l14-38l14 21l14-19l15 5l14 12l14-15l14 13l14-25l14 3l14 6l14-32l15 5l14 18l14-14l14-43l14 49l14-27l14-14l14 17l15-10l14-14l14 11l14-6l14-6l14-14l14 10l15-12l14-16l14-16l14 32l14-29l14 28l14-20l14-11l15 11l14-11l14 12l14-21l14 3l14-9l14 18l14-38l15 36l14-25l14-2l14-6l14-9l14-39l14 39l15 17l14-45l14-2l14-1l14 9l14-37l14 26l14 4l15-12l14 8l14-3l14-39l14 26l14 2l14-22l14-9l15 20l14-8l14-34l14 7l14 22l14-45l14-3l14 52l15-39l14 14l14-8l24 9l-14 9l-14-18l-14 16l-14-1l-14-26l-14 16l-15 21l-14 14l-14-8l-14 26l-14-8l-14-20l-14 29l-14-5l-15 11l-14-5l-14 20l-14-7l-14 13l-14-7l-14 1l-15 24l-14-9l-14 9l-14-3l-14-1l-14-13l-14 34l-14-4l-15 10l-14 10l-14-3l-14-2l-14 23l-14-14l-14 2l-14 15l-15-14l-14 2l-14 19l-14 0l-14-12l-14 12l-14-10l-15 5l-14 37l-14-54l-14 51l-14-14l-14-13l-14 40l-14-17l-15 33l-14-10l-14-15l-14 13l-14 14l-14-21l-14 41l-14-23l-15 0l-14 19l-14-15l-14 10l-14 20l-14-1l-14-4l-14 30l-15-4l-14-22l-14 24l-14-15l-14 19l-14-6l-14-16l-15 38l-14-3l-14-3l-14 23l-14-19l-14 21l-14-1l-14-16l-15 27l-14-13l-14 5l-14 59zm14-35l24-9m-10-17l24 12m-10 6l24 7m-10-19l25-8m-11 2l25 14m-11-15l25 16m-10-18l24-3m-10 6l24 13m-10-35l24 12m-10-10l24 13m-10-4l24 7m-10-45l25 7m-11 14l25 2m-11-21l25 27m-10-22l24 3m-10 9l24 6m-10-21l24-3m-10 16l24 6m-10-31l25 35m-11-32l25 2m-11 4l25 0m-11-32l25 33m-10-28l24 8m-10 10l24-20m-10 6l24 9m-10-52l24 33m-10 16l25-16m-11-11l25 34m-11-48l25 7m-11 10l25 11m-10-21l24 7m-10-21l24 8m-10 3l24 12m-10-18l24 28m-10-34l25 1m-11-15l25 32m-11-22l25-18m-10 6l24 7m-10-23l24 37m-10-53l24 2m-10 30l24 24m-10-53l24 16m-10 12l25-17m-11-3l25 13m-11-24l25 12m-10-1l24 13m-10-24l24 24m-10-12l24-7m-10-14l24 12m-10-9l25 23m-11-32l25 17m-11 1l25-3m-11-35l25 49m-10-13l24-10m-10-15l24 17m-10-19l24 22m-10-28l24 18m-10-27l25 17m-11-56l25 60m-11-21l25-13m-10 30l24-17m-10-28l24 29m-10-31l24 34m-10-35l24 26m-10-17l24 26m-10-63l25 39m-11-13l25 12m-11-8l25 15m-10-27l24 14m-10-6l24 13m-10-16l24-4m-10-35l24 40m-10-14l25 3m-11-1l25 6m-11-28l25-1m-11-8l25 28m-10-8l24 16m-10-24l24-2m-10-32l24 40m-10-33l24 19m-10 3l25-24m-11-21l25 5m-11-8l25 34m-11 18l25-17m-10-22l24 6m-10 8l24 10"/>
<path stroke="#0000c8" d="M1114 1915l5-20l4-19l5-20l5-2l5-2l4-1l5 4l5 5l4 4l5-9l5-9l5-9l4 5l5 6l5 5l4 0l5 0l5 1l5-7l4-7l5-7l5 6l4 6l5 7l5-8l5-7l4-8l5 1l5 1l4 1l5 1l5 1l4 1l5-12l5-13l5-13l4 6l5 5l5 5l4 2l5 2l5 2l5-7l4-6l5-6l5 5l4 5l5 5l5-8l5-8l4-8l5 8l5 7l4 7l5 2l5 1l5 1l4-10l5-10l5-10l4 1l5 1l5 2l4 0l5 1l5 0l5-6l4-7l5-7l5-3l4-4l5-3l5 5l5 5l4 5l5-6l5-7l4-6l5 0l5 0l5 0l4 8l5 7l5 8l4-14l5-13l5-14l5 7l4 7l5 7l5-5l4-4l5-5l5-4l4-5l5-4l5 5l5 5l4 5l5 3l5 4l4 3l5-11l5-11l5-11l4 6l5 5l5 6l4-13l5-13l5-14l5 5l4 4l5 4l5 5l4 5l5 4l5-17l5-17l4-17l5 18l5 18l4 18l5-13l5-12l4-12l5-2l5-1l5-2l4 3l5 3l5 4l4-4l5-4l5-4l5 4l4 4l5 4l5 0l4 0l5 0l5-6l5-7l4-6l5-1l5-1l4 0l5 4l5 5l5 5l4-5l5-5l5-5l4-1l5 0l5-1l4 5l5 4l5 5l5-8l4-8l5-7l5 0l4 1l5 1l5 1l5 1l4 1l5-3l5-4l4-3l5-4l5-3l5-3l4 1l5 2l5 1l4-11l5-12l5-11l5 4l4 4l5 5l5 0l4 0l5 1l5 1l5 1l4 1l5-3l5-3l4-3l5 3l5 3l4 3l5-8l5-8l5-8l4 0l5-1l5 0l4 2l5 2l5 3l5-5l4-4l5-4l5 2l4 2l5 3l5-7l5-7l4-6l5 2l5 1l4 2l5-4l5-3l5-4l4 2l5 1l5 2l4-10l5-9l5-10l4 7l5 6l5 7l5 3l4 2l5 3l5-9l4-8l5-9l5 2l5 3l4 3l5-5l5-5l4-4l5-7l5-7l5-7l4-5l5-6l5-5l4 8l5 9l5 9l5 0l4 0l5 1l5-6l4-5l5-5l5 6l4 6l5 6l5-3l5-3l4-3l25 54l-5-10l-5 17l-4 13l-5-11l-5-6l-4 17l-5-5l-5-17l-5 12l-4 10l-5 1l-5-12l-4 22l-5-8l-5 10l-5-19l-4 16l-5 3l-5-22l-4 19l-5-28l-5 33l-5 1l-4-3l-5 8l-5-4l-4 3l-5 3l-5 9l-5-24l-4 1l-5 1l-5 8l-4 6l-5 7l-5 8l-4-5l-5 10l-5-13l-5 10l-4-6l-5 2l-5-4l-4-13l-5 18l-5-5l-5-2l-4 18l-5-16l-5 2l-4 21l-5-5l-5-6l-5-10l-4 31l-5-32l-5 31l-4-12l-5 16l-5-7l-5-5l-4 21l-5-21l-5 20l-4 2l-5-6l-5 0l-4-8l-5 3l-5 1l-5 15l-4-23l-5 19l-5 0l-4-14l-5 8l-5-8l-5 11l-4-1l-5 11l-5-6l-4 8l-5 11l-5-25l-5-2l-4 14l-5-17l-5 22l-4 10l-5 5l-5 2l-5-2l-4 6l-5-5l-5-11l-4 0l-5 16l-5-15l-4 24l-5-7l-5-4l-5-4l-4-1l-5 18l-5-21l-4 11l-5 1l-5-2l-5 17l-4-9l-5 11l-5-7l-4-10l-5 14l-5 0l-5-8l-4-9l-5 20l-5 4l-4-4l-5 7l-5-2l-5 9l-4-11l-5 15l-5-2l-4 5l-5-10l-5 0l-5 3l-4 4l-5-7l-5 11l-4-5l-5 2l-5-8l-4 1l-5-1l-5-6l-5 32l-4-1l-5-16l-5-1l-4-2l-5 21l-5-9l-5-21l-4 38l-5-10l-5-20l-4 34l-5-12l-5 2l-5-22l-4 35l-5-4l-5 14l-4-14l-5-16l-5 26l-5-18l-4-3l-5 25l-5-11l-4 0l-5-5l-5 19l-4-5l-5 3l-5 9l-5-14l-4 23l-5 1l-5-11l-4 4l-5-5l-5 3l-5-1l-4-13l-5 0l-5 8l-4 0l-5 3l-5 19l-5 6l-4-5l-5-1l-5 2l-4-5l-5-14l-5 17l-5-2l-4 0l-5-4l-5 1l-4-4l-5 17l-5 11l-4-14l-5 8l-5 13l-5-7l-4-8l-5 9l-5-28l-4 34l-5 0l-5 0l-5 4l-4-17l-5 11l-5 3l-4 11l-5-23l-5 10l-5 2l-4 7l-5 10l-5-34l-4 7l-5 33l-5-5l-5 10l-4-3l-5 4l-5-2l-4-4l-5 11l-5-5l-4-2l-5-1l-5 8l-5 6l-4-6l-5 0l-5-7l-4 13l-5 2l-5-2l-5 1l-4-2l-5 1l-5 9l-4-25l-5 34l-5-42l-5 33l-4-3l-5 6l-5 11l-4-52l-5 43l-5 5l-5-11l-4 7l-5-16l-5 22l-4-4l-5 15l-5 5l-5-17zm5-20l24 50m-20-69l25 64m-20-84l25 69m-20-71l24 75m-19-77l24 55m-20-56l25 72m-20-68l24 61m-19-56l24 67m-20-63l25 58m-20-67l25 24m-20-33l24 85m-19-94l24 83m-20-78l25 72m-20-66l24 69m-19-64l24 31m-20-31l25 73m-20-73l25 39m-20-38l24 63m-19-70l24 61m-20-68l25 67m-20-74l24 76m-19-70l24 69m-20-63l25 65m-20-58l25 56m-20-64l24 51m-19-58l24 65m-20-73l25 73m-20-72l24 78m-19-77l24 71m-20-70l25 62m-20-61l25 62m-20-61l24 63m-20-62l25 67m-20-79l25 68m-20-81l24 85m-19-98l24 100m-20-94l25 90m-20-85l24 88m-19-83l24 73m-20-71l25 76m-20-74l25 41m-20-39l24 32m-19-39l24 73m-20-79l25 69m-20-75l24 68m-19-63l24 61m-20-56l25 46m-20-41l25 64m-20-72l24 61m-19-69l24 66m-20-74l25 63m-20-55l24 72m-19-65l24 61m-20-54l25 54m-20-52l25 52m-20-51l24 17m-19-16l24 44m-20-54l25 45m-20-55l24 63m-19-73l24 80m-20-79l25 66m-20-65l25 57m-20-55l24 69m-20-69l25 58m-20-57l25 40m-20-40l24 44m-19-50l24 49m-20-56l25 60m-20-67l24 67m-19-70l24 72m-20-76l25 59m-20-62l25 76m-20-71l24 76m-19-71l24 69m-20-64l25 65m-20-71l24 76m-19-83l24 77m-20-83l25 64m-20-64l25 61m-20-61l24 61m-19-61l24 53m-20-45l25 45m-20-38l24 51m-19-43l24 44m-20-58l25 55m-20-68l25 73m-20-87l24 83m-19-76l24 87m-20-80l25 79m-20-72l24 49m-19-54l24 68m-20-72l25 63m-20-68l25 65m-20-69l24 74m-20-79l25 60m-20-64l25 69m-20-64l24 64m-19-59l24 70m-20-65l25 40m-20-37l24 40m-19-36l24 54m-20-51l25 25m-20-36l25 52m-20-63l24 77m-19-88l24 74m-20-68l25 72m-20-67l24 32m-19-26l24 48m-20-61l25 59m-20-72l25 84m-20-98l24 64m-19-59l24 79m-20-75l25 85m-20-81l24 43m-19-38l24 59m-20-54l25 63m-20-59l25 38m-20-55l24 57m-19-74l24 75m-20-92l25 108m-20-90l24 91m-19-73l24 41m-20-23l25 29m-20-42l25 43m-20-55l24 54m-20-66l25 74m-20-76l25 74m-20-75l24 80m-19-82l24 71m-20-68l25 75m-20-72l24 68m-19-64l24 61m-20-65l25 65m-20-69l25 79m-20-83l24 78m-19-74l24 76m-20-72l25 57m-20-53l24 64m-19-64l24 55m-20-55l25 57m-20-57l25 50m-20-56l24 60m-19-67l24 63m-20-69l25 49m-20-50l24 59m-19-60l24 68m-20-68l25 68m-20-64l25 50m-20-45l24 55m-19-50l24 57m-20-62l25 51m-20-56l24 65m-19-70l24 53m-20-54l25 56m-20-56l25 55m-20-56l24 45m-20-40l25 61m-20-57l25 39m-20-34l24 35m-19-43l24 47m-20-55l25 59m-20-66l25 73m-20-73l24 49m-20-48l25 63m-20-62l25 46m-20-45l24 45m-19-44l24 55m-20-54l25 59m-20-62l24 56m-19-60l24 62m-20-65l25 63m-20-67l25 62m-20-65l24 55m-19-58l24 36m-20-35l25 52m-20-50l24 36m-19-35l24 37m-20-48l25 73m-20-85l25 74m-20-85l24 77m-19-73l24 79m-20-75l25 64m-20-59l24 60m-19-60l24 49m-20-49l25 57m-20-56l25 48m-20-47l24 61m-19-60l24 60m-20-59l25 40m-20-43l24 66m-19-69l24 54m-20-57l25 56m-20-53l25 50m-20-47l24 55m-20-52l25 52m-20-60l25 66m-20-74l24 72m-19-80l24 60m-20-60l25 81m-20-82l24 61m-19-61l24 66m-20-64l25 71m-20-69l25 53m-20-50l24 62m-19-67l24 36m-20-40l25 72m-20-76l24 45m-19-43l24 53m-20-51l25 57m-20-54l25 59m-20-66l24 45m-19-52l24 50m-20-56l25 72m-20-70l24 52m-19-51l24 53m-20-51l25 56m-20-60l25 42m-20-45l24 58m-19-62l24 66m-20-64l25 62m-20-61l24 67m-19-65l24 55m-20-65l25 78m-20-87l25 77m-20-87l24 92m-20-85l25 77m-20-71l25 64m-20-57l24 51m-19-48l24 40m-20-38l25 37m-20-34l24 33m-19-42l24 66m-20-74l25 65m-20-74l25 71m-20-69l24 66m-19-63l24 67m-20-64l25 56m-20-61l24 64m-19-69l24 68m-20-72l25 39m-20-46l25 74m-20-81l24 62m-19-69l24 91m-20-96l25 93m-20-99l24 83m-19-88l24 107m-20-99l25 89m-20-80l25 88m-20-79l24 57m-19-57l24 69m-20-69l25 68m-20-67l24 57m-19-63l24 51m-20-56l25 73m-20-78l25 83m-20-77l24 60m-20-54l25 60m-20-54l25 65m-20-68l24 55m-19-58l24 41"/>
<path d="M380 1583l9 3l8 3l8 2l8 3l8 3l8 2l9 6l8 6l8 6l8 3l8 2l8 2l8 3l9 2l8 3l8 3l8 4l8 3l8 3l8 3l9 3l8 5l8 5l8 5l8 5l8 5l9 4l8 2l8 2l8 1l8 6l8 6l8 6l9 3l8 3l8 2l8 3l8 3l8 3l9 2l8 1l8 2l8 8l8 7l8 8l8 3l9 3l8 2l8 5l8 4l8 4l8 5l8 5l9 5l8 4l8 4l8 5l8 0l8 0l9 1l8 5l8 5l8 6l8 0l8 0l8 0l9 6l8 6l8 6l8 3l8 4l8 3l8 2l9 2l8 2l8 5l8 5l8 5l8 4l9 5l8 4l8 4l8 4l8 4l8 4l8 4l9 4l8 5l8 5l8 5l8 9l8 9l8 9l0 1l-8-4l-8-3l-8-4l-8-4l-8-3l-8-4l-9-4l-8-4l-8-3l-8-4l-8-4l-8-3l-8-4l-9-4l-8-3l-8-4l-8-4l-8-3l-8-4l-9-4l-8-3l-8-4l-8-4l-8-3l-8-4l-8-4l-9-3l-8-4l-8-4l-8-3l-8-4l-8-4l-8-3l-9-4l-8-4l-8-3l-8-4l-8-4l-8-3l-9-4l-8-4l-8-3l-8-4l-8-4l-8-3l-8-4l-9-4l-8-3l-8-4l-8-4l-8-3l-8-4l-8-4l-9-3l-8-4l-8-4l-8-3l-8-4l-8-4l-9-3l-8-4l-8-4l-8-4l-8-3l-8-4l-8-4l-9-3l-8-4l-8-4l-8-3l-8-4l-8-4l-9-3l-8-4l-8-4l-8-3l-8-4l-8-4l-8-3l-9-4l-8-4l-8-3l-8-4l-8-4l-8-3l-8-4l-9-4l-8-3l-8-4l-8-4l-8-3l-8-4l-9-4zm9 3l0 19m8-16l0 20m8-18l0 21m8-18l0 22m8-19l0 23m8-21l0 24m9-18l0 22m8-16l0 20m8-14l0 17m8-14l0 18m8-16l0 20m8-18l0 21m8-18l0 22m9-20l0 24m8-21l0 24m8-21l0 25m8-21l0 25m8-22l0 25m8-22l0 26m8-23l0 27m9-24l0 27m8-22l0 26m8-21l0 25m8-20l0 23m8-18l0 22m8-17l0 21m9-17l0 20m8-18l0 22m8-20l0 24m8-23l0 26m8-20l0 24m8-18l0 22m8-16l0 20m9-17l0 20m8-17l0 21m8-19l0 23m8-20l0 23m8-20l0 24m8-21l0 25m9-23l0 26m8-25l0 29m8-27l0 31m8-23l0 26m8-19l0 23m8-15l0 19m8-16l0 19m9-16l0 20m8-18l0 22m8-17l0 20m8-16l0 20m8-16l0 20m8-15l0 18m8-13l0 17m9-12l0 16m8-12l0 15m8-11l0 15m8-10l0 14m8-14l0 17m8-17l0 21m9-20l0 24m8-19l0 22m8-17l0 21m8-15l0 19m8-19l0 22m8-22l0 26m8-26l0 30m9-24l0 27m8-21l0 25m8-19l0 23m8-20l0 23m8-19l0 23m8-20l0 24m8-22l0 25m9-23l0 27m8-25l0 29m8-24l0 27m8-22l0 26m8-21l0 25m8-21l0 24m9-19l0 23m8-19l0 23m8-19l0 22m8-18l0 22m8-18l0 22m8-18l0 21m8-17l0 21m9-17l0 21m8-16l0 20m8-15l0 18m8-13l0 17m8-8l0 12m8-3l0 6"/>
</g>
<g fill="none" stroke-linecap="butt">
<path d="M173.6 159L174.8 171L176.6 233L177.6 300L172 312L164.6 311L166.6 250L167.8 240L168.6 215L168.6 196L171.3 178L173 166.6Z" fill="#fff"/>
<path d="M168 250L168 313" stroke="#0000f0" stroke-width="1.3"/>
<path d="M173.6 222L172.4 311" stroke="#0000d0" stroke-width="1.5"/>
<path d="M176.5 233L174.4 294" stroke="#1a6cff" stroke-width="1.3"/>
<path d="M176.9 255L176.9 277" stroke="#6fb4ff" stroke-width="1"/>
<path d="M175.9 202L175.9 221" stroke="#22aaf0" stroke-width="1.3"/>
<path d="M174.8 171L174.8 188.6" stroke="#22aaf0" stroke-width="1.5"/>
<path d="M173.4 166.6L173 219.7L169.6 238" stroke="#f5c400" stroke-width="1.3"/>
<path d="M169.6 238L168.8 261" stroke="#a8e070" stroke-width="1.2"/>
<path d="M168.6 196L168.6 215L167.8 240L166.7 250L164.7 310" stroke="#ff8a1e" stroke-width="1.3"/>
<path d="M173.6 159L173 166.6L171.3 178L169.6 187.4L168.6 196" stroke="#c0282d" stroke-width="1.5"/>
<path d="M205 271L205.6 284" stroke="#40c8f0" stroke-width="1.2"/>
<path d="M248 276L248.2 298" stroke="#30b8f0" stroke-width="1.2"/>
</g>
<g fill="none" stroke="#222" stroke-width="1.1">
<path d="M36.4 303.8V113.6M36.4 303.8L227.7 390L477.3 323.3"/>
<path d="M36.4 113.6l-4.8 -2.2M36.4 161.2l-4.8 -2.2M36.4 208.7l-4.8 -2.2M36.4 256.2l-4.8 -2.2M36.4 303.8l-4.8 -2.2"/>
<path d="M36.4 303.8l-6.3 1.7M132.05 346.9l-6.3 1.7M227.7 390l-6.3 1.7"/>
<path d="M227.7 390l6.3 2.8M352.5 356.65l6.3 2.8M477.3 323.3l6.3 2.8"/>
</g>
<g class="a" font-size="19.5" fill="#000" stroke="#000" stroke-width="0.3" text-anchor="end">
<text x="25.7" y="115.2">8</text>
<text x="25.7" y="162.8">6</text>
<text x="25.7" y="210.4">4</text>
<text x="25.7" y="257.8">2</text>
<text x="25.7" y="305.2">0</text>
</g>
<g class="a" font-size="19.5" fill="#000" stroke="#000" stroke-width="0.3">
<text x="4.6" y="326.3" textLength="19.9" lengthAdjust="spacingAndGlyphs">40</text>
<text x="97.7" y="368.8">20</text>
<text x="205.6" y="410.6">0</text>
<text x="239.4" y="414">0</text>
<text x="364" y="380.5">500</text>
</g>
<text class="s" x="494.4" y="352.3" font-size="22" fill="#000" stroke="#000" stroke-width="0.25">1,000</text>
<g class="a" fill="#000">
<text x="36.3" y="68" font-size="21" fill="#333">×</text>
<text x="51.9" y="67.1" font-size="18.4" stroke="#000" stroke-width="0.3">10</text>
<text x="73.4" y="53.6" font-size="13" stroke="#000" stroke-width="0.25">-</text>
<text x="79.2" y="53.6" font-size="13" stroke="#000" stroke-width="0.25">4</text>
</g>
<g class="s" font-size="22" fill="#000" stroke="#000" stroke-width="0.3">
<text x="179.2" y="27.9">Range-Doppler Map</text>
<text x="27.2" y="414.4">Doppler cell</text>
<text x="351.4" y="419.7">Range cell</text>
</g>
<text class="s" x="52.2" y="141.1" font-size="26.5" fill="#ff0000" stroke="#ff0000" stroke-width="0.25">Target Present</text>
<text class="s" x="235.8" y="185.3" font-size="27.5" fill="#f96b0e" stroke="#f96b0e" stroke-width="0.25">Target Absent</text>
<g fill="none" stroke-width="3" stroke-linejoin="miter">
<path d="M134 296.4L167.2 287.4L209.3 311.1L176.6 320.1Z" stroke="#ff0000"/>
<path d="M188.7 267L213.8 259.8L246.5 284.5L220.4 291.5Z" stroke="#f96b0e"/>
<path d="M229.1 295.8L255.3 288.8L288 312.2L262.9 320.3Z" stroke="#f96b0e"/>
</g>
<g stroke="#000" stroke-width="2.8" fill="#000">
<path d="M109.7 173.9L133.9 246.7" fill="none"/>
<path d="M141 269.1L126.25 249.3L141.6 244.1Z" stroke-width="0.5"/>
<path d="M294.1 205.9L260 239" fill="none"/>
<path d="M243.3 256L254.4 234.3L266 244Z" stroke-width="0.5"/>
<path d="M296.9 206.2L279.9 278.2" fill="none"/>
<path d="M274.5 299.9L272.1 276.2L287.7 280.2Z" stroke-width="0.5"/>
</g>
</svg>
</body></html>
